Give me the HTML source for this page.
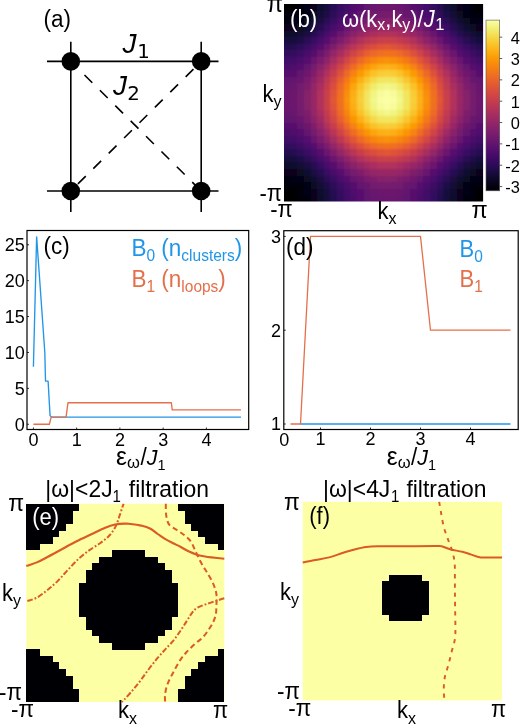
<!DOCTYPE html>
<html><head><meta charset="utf-8"><title>Figure</title>
<style>
html,body{margin:0;padding:0;background:#fff;}
svg{display:block;}
text{font-family:"Liberation Sans",sans-serif;fill:#000;}
.dj{font-family:"DejaVu Sans",sans-serif;}
.it{font-style:italic;}
</style></head><body>
<svg width="520" height="724" viewBox="0 0 520 724">
<rect width="520" height="724" fill="#fff"/>
<g id="pa" stroke="#000" stroke-width="1.6" fill="none">
<line x1="47" y1="61.4" x2="218.5" y2="61.4"/>
<line x1="47" y1="191.0" x2="218.5" y2="191.0"/>
<line x1="70.8" y1="41.8" x2="70.8" y2="212"/>
<line x1="201.2" y1="41.8" x2="201.2" y2="212"/>
<line x1="70.8" y1="61.4" x2="201.2" y2="191.0" stroke-dasharray="11 10.7" stroke-dashoffset="2.4"/>
<line x1="201.2" y1="61.4" x2="70.8" y2="191.0" stroke-dasharray="11 10.7" stroke-dashoffset="10.8"/>
</g>
<circle cx="70.8" cy="61.4" r="9.3" fill="#000"/>
<circle cx="201.2" cy="61.4" r="9.3" fill="#000"/>
<circle cx="70.8" cy="191.0" r="9.3" fill="#000"/>
<circle cx="201.2" cy="191.0" r="9.3" fill="#000"/>
<text transform="matrix(1 0 0 1.05 0 -1.375)" x="43.5" y="27.5" font-size="22.5">(a)</text>
<text x="122.5" y="52.6" font-size="28"><tspan class="it">J</tspan><tspan class="dj" font-size="19.8" dy="5.1" dx="0.8">1</tspan></text>
<text x="113" y="95" font-size="28"><tspan class="it">J</tspan><tspan class="dj" font-size="19.8" dy="5.4" dx="0.3">2</tspan></text>
<defs><filter id="bl" x="-5%" y="-5%" width="110%" height="110%"><feGaussianBlur stdDeviation="0.8"/></filter></defs>
<clipPath id="cb"><rect x="284.0" y="3.9" width="199.1" height="197.5"/></clipPath>
<g clip-path="url(#cb)">
<g shape-rendering="crispEdges" filter="url(#bl)">
<rect x="277.36" y="201.40" width="7.14" height="7.08" fill="#000004"/>
<rect x="284.00" y="201.40" width="7.14" height="7.08" fill="#000004"/>
<rect x="290.64" y="201.40" width="7.14" height="7.08" fill="#000004"/>
<rect x="297.27" y="201.40" width="7.14" height="7.08" fill="#010108"/>
<rect x="303.91" y="201.40" width="7.14" height="7.08" fill="#030210"/>
<rect x="310.55" y="201.40" width="7.14" height="7.08" fill="#07051b"/>
<rect x="317.18" y="201.40" width="7.14" height="7.08" fill="#0e092b"/>
<rect x="323.82" y="201.40" width="7.14" height="7.08" fill="#180c3c"/>
<rect x="330.46" y="201.40" width="7.14" height="7.08" fill="#240c4f"/>
<rect x="337.09" y="201.40" width="7.14" height="7.08" fill="#320a5e"/>
<rect x="343.73" y="201.40" width="7.14" height="7.08" fill="#400a67"/>
<rect x="350.37" y="201.40" width="7.14" height="7.08" fill="#4c0c6b"/>
<rect x="357.00" y="201.40" width="7.14" height="7.08" fill="#57106e"/>
<rect x="363.64" y="201.40" width="7.14" height="7.08" fill="#5f136e"/>
<rect x="370.28" y="201.40" width="7.14" height="7.08" fill="#65156e"/>
<rect x="376.91" y="201.40" width="7.14" height="7.08" fill="#69166e"/>
<rect x="383.55" y="201.40" width="7.14" height="7.08" fill="#6a176e"/>
<rect x="390.19" y="201.40" width="7.14" height="7.08" fill="#69166e"/>
<rect x="396.82" y="201.40" width="7.14" height="7.08" fill="#65156e"/>
<rect x="403.46" y="201.40" width="7.14" height="7.08" fill="#5f136e"/>
<rect x="410.10" y="201.40" width="7.14" height="7.08" fill="#57106e"/>
<rect x="416.73" y="201.40" width="7.14" height="7.08" fill="#4c0c6b"/>
<rect x="423.37" y="201.40" width="7.14" height="7.08" fill="#400a67"/>
<rect x="430.01" y="201.40" width="7.14" height="7.08" fill="#320a5e"/>
<rect x="436.64" y="201.40" width="7.14" height="7.08" fill="#240c4f"/>
<rect x="443.28" y="201.40" width="7.14" height="7.08" fill="#180c3c"/>
<rect x="449.92" y="201.40" width="7.14" height="7.08" fill="#0e092b"/>
<rect x="456.55" y="201.40" width="7.14" height="7.08" fill="#07051b"/>
<rect x="463.19" y="201.40" width="7.14" height="7.08" fill="#030210"/>
<rect x="469.83" y="201.40" width="7.14" height="7.08" fill="#010108"/>
<rect x="476.46" y="201.40" width="7.14" height="7.08" fill="#000004"/>
<rect x="483.10" y="201.40" width="7.14" height="7.08" fill="#000004"/>
<rect x="277.36" y="194.82" width="7.14" height="7.08" fill="#000004"/>
<rect x="284.00" y="194.82" width="7.14" height="7.08" fill="#000004"/>
<rect x="290.64" y="194.82" width="7.14" height="7.08" fill="#000004"/>
<rect x="297.27" y="194.82" width="7.14" height="7.08" fill="#010108"/>
<rect x="303.91" y="194.82" width="7.14" height="7.08" fill="#030210"/>
<rect x="310.55" y="194.82" width="7.14" height="7.08" fill="#07051b"/>
<rect x="317.18" y="194.82" width="7.14" height="7.08" fill="#0e092b"/>
<rect x="323.82" y="194.82" width="7.14" height="7.08" fill="#180c3c"/>
<rect x="330.46" y="194.82" width="7.14" height="7.08" fill="#240c4f"/>
<rect x="337.09" y="194.82" width="7.14" height="7.08" fill="#320a5e"/>
<rect x="343.73" y="194.82" width="7.14" height="7.08" fill="#400a67"/>
<rect x="350.37" y="194.82" width="7.14" height="7.08" fill="#4c0c6b"/>
<rect x="357.00" y="194.82" width="7.14" height="7.08" fill="#57106e"/>
<rect x="363.64" y="194.82" width="7.14" height="7.08" fill="#5f136e"/>
<rect x="370.28" y="194.82" width="7.14" height="7.08" fill="#65156e"/>
<rect x="376.91" y="194.82" width="7.14" height="7.08" fill="#69166e"/>
<rect x="383.55" y="194.82" width="7.14" height="7.08" fill="#6a176e"/>
<rect x="390.19" y="194.82" width="7.14" height="7.08" fill="#69166e"/>
<rect x="396.82" y="194.82" width="7.14" height="7.08" fill="#65156e"/>
<rect x="403.46" y="194.82" width="7.14" height="7.08" fill="#5f136e"/>
<rect x="410.10" y="194.82" width="7.14" height="7.08" fill="#57106e"/>
<rect x="416.73" y="194.82" width="7.14" height="7.08" fill="#4c0c6b"/>
<rect x="423.37" y="194.82" width="7.14" height="7.08" fill="#400a67"/>
<rect x="430.01" y="194.82" width="7.14" height="7.08" fill="#320a5e"/>
<rect x="436.64" y="194.82" width="7.14" height="7.08" fill="#240c4f"/>
<rect x="443.28" y="194.82" width="7.14" height="7.08" fill="#180c3c"/>
<rect x="449.92" y="194.82" width="7.14" height="7.08" fill="#0e092b"/>
<rect x="456.55" y="194.82" width="7.14" height="7.08" fill="#07051b"/>
<rect x="463.19" y="194.82" width="7.14" height="7.08" fill="#030210"/>
<rect x="469.83" y="194.82" width="7.14" height="7.08" fill="#010108"/>
<rect x="476.46" y="194.82" width="7.14" height="7.08" fill="#000004"/>
<rect x="483.10" y="194.82" width="7.14" height="7.08" fill="#000004"/>
<rect x="277.36" y="188.23" width="7.14" height="7.08" fill="#000004"/>
<rect x="284.00" y="188.23" width="7.14" height="7.08" fill="#000004"/>
<rect x="290.64" y="188.23" width="7.14" height="7.08" fill="#010005"/>
<rect x="297.27" y="188.23" width="7.14" height="7.08" fill="#02010a"/>
<rect x="303.91" y="188.23" width="7.14" height="7.08" fill="#040312"/>
<rect x="310.55" y="188.23" width="7.14" height="7.08" fill="#08051d"/>
<rect x="317.18" y="188.23" width="7.14" height="7.08" fill="#10092d"/>
<rect x="323.82" y="188.23" width="7.14" height="7.08" fill="#190c3e"/>
<rect x="330.46" y="188.23" width="7.14" height="7.08" fill="#260c51"/>
<rect x="337.09" y="188.23" width="7.14" height="7.08" fill="#340a5f"/>
<rect x="343.73" y="188.23" width="7.14" height="7.08" fill="#420a68"/>
<rect x="350.37" y="188.23" width="7.14" height="7.08" fill="#4f0d6c"/>
<rect x="357.00" y="188.23" width="7.14" height="7.08" fill="#59106e"/>
<rect x="363.64" y="188.23" width="7.14" height="7.08" fill="#62146e"/>
<rect x="370.28" y="188.23" width="7.14" height="7.08" fill="#69166e"/>
<rect x="376.91" y="188.23" width="7.14" height="7.08" fill="#6c186e"/>
<rect x="383.55" y="188.23" width="7.14" height="7.08" fill="#6d186e"/>
<rect x="390.19" y="188.23" width="7.14" height="7.08" fill="#6c186e"/>
<rect x="396.82" y="188.23" width="7.14" height="7.08" fill="#69166e"/>
<rect x="403.46" y="188.23" width="7.14" height="7.08" fill="#62146e"/>
<rect x="410.10" y="188.23" width="7.14" height="7.08" fill="#59106e"/>
<rect x="416.73" y="188.23" width="7.14" height="7.08" fill="#4f0d6c"/>
<rect x="423.37" y="188.23" width="7.14" height="7.08" fill="#420a68"/>
<rect x="430.01" y="188.23" width="7.14" height="7.08" fill="#340a5f"/>
<rect x="436.64" y="188.23" width="7.14" height="7.08" fill="#260c51"/>
<rect x="443.28" y="188.23" width="7.14" height="7.08" fill="#190c3e"/>
<rect x="449.92" y="188.23" width="7.14" height="7.08" fill="#10092d"/>
<rect x="456.55" y="188.23" width="7.14" height="7.08" fill="#08051d"/>
<rect x="463.19" y="188.23" width="7.14" height="7.08" fill="#040312"/>
<rect x="469.83" y="188.23" width="7.14" height="7.08" fill="#02010a"/>
<rect x="476.46" y="188.23" width="7.14" height="7.08" fill="#010005"/>
<rect x="483.10" y="188.23" width="7.14" height="7.08" fill="#010005"/>
<rect x="277.36" y="181.65" width="7.14" height="7.08" fill="#010108"/>
<rect x="284.00" y="181.65" width="7.14" height="7.08" fill="#010108"/>
<rect x="290.64" y="181.65" width="7.14" height="7.08" fill="#02010a"/>
<rect x="297.27" y="181.65" width="7.14" height="7.08" fill="#02020e"/>
<rect x="303.91" y="181.65" width="7.14" height="7.08" fill="#060419"/>
<rect x="310.55" y="181.65" width="7.14" height="7.08" fill="#0b0724"/>
<rect x="317.18" y="181.65" width="7.14" height="7.08" fill="#140b34"/>
<rect x="323.82" y="181.65" width="7.14" height="7.08" fill="#1f0c48"/>
<rect x="330.46" y="181.65" width="7.14" height="7.08" fill="#2d0b59"/>
<rect x="337.09" y="181.65" width="7.14" height="7.08" fill="#3d0965"/>
<rect x="343.73" y="181.65" width="7.14" height="7.08" fill="#4a0c6b"/>
<rect x="350.37" y="181.65" width="7.14" height="7.08" fill="#57106e"/>
<rect x="357.00" y="181.65" width="7.14" height="7.08" fill="#62146e"/>
<rect x="363.64" y="181.65" width="7.14" height="7.08" fill="#6a176e"/>
<rect x="370.28" y="181.65" width="7.14" height="7.08" fill="#721a6e"/>
<rect x="376.91" y="181.65" width="7.14" height="7.08" fill="#751b6e"/>
<rect x="383.55" y="181.65" width="7.14" height="7.08" fill="#771c6d"/>
<rect x="390.19" y="181.65" width="7.14" height="7.08" fill="#751b6e"/>
<rect x="396.82" y="181.65" width="7.14" height="7.08" fill="#721a6e"/>
<rect x="403.46" y="181.65" width="7.14" height="7.08" fill="#6a176e"/>
<rect x="410.10" y="181.65" width="7.14" height="7.08" fill="#62146e"/>
<rect x="416.73" y="181.65" width="7.14" height="7.08" fill="#57106e"/>
<rect x="423.37" y="181.65" width="7.14" height="7.08" fill="#4a0c6b"/>
<rect x="430.01" y="181.65" width="7.14" height="7.08" fill="#3d0965"/>
<rect x="436.64" y="181.65" width="7.14" height="7.08" fill="#2d0b59"/>
<rect x="443.28" y="181.65" width="7.14" height="7.08" fill="#1f0c48"/>
<rect x="449.92" y="181.65" width="7.14" height="7.08" fill="#140b34"/>
<rect x="456.55" y="181.65" width="7.14" height="7.08" fill="#0b0724"/>
<rect x="463.19" y="181.65" width="7.14" height="7.08" fill="#060419"/>
<rect x="469.83" y="181.65" width="7.14" height="7.08" fill="#02020e"/>
<rect x="476.46" y="181.65" width="7.14" height="7.08" fill="#02010a"/>
<rect x="483.10" y="181.65" width="7.14" height="7.08" fill="#02010a"/>
<rect x="277.36" y="175.07" width="7.14" height="7.08" fill="#030210"/>
<rect x="284.00" y="175.07" width="7.14" height="7.08" fill="#030210"/>
<rect x="290.64" y="175.07" width="7.14" height="7.08" fill="#040312"/>
<rect x="297.27" y="175.07" width="7.14" height="7.08" fill="#060419"/>
<rect x="303.91" y="175.07" width="7.14" height="7.08" fill="#0a0722"/>
<rect x="310.55" y="175.07" width="7.14" height="7.08" fill="#110a30"/>
<rect x="317.18" y="175.07" width="7.14" height="7.08" fill="#1b0c41"/>
<rect x="323.82" y="175.07" width="7.14" height="7.08" fill="#290b55"/>
<rect x="330.46" y="175.07" width="7.14" height="7.08" fill="#390963"/>
<rect x="337.09" y="175.07" width="7.14" height="7.08" fill="#490b6a"/>
<rect x="343.73" y="175.07" width="7.14" height="7.08" fill="#57106e"/>
<rect x="350.37" y="175.07" width="7.14" height="7.08" fill="#64156e"/>
<rect x="357.00" y="175.07" width="7.14" height="7.08" fill="#6f196e"/>
<rect x="363.64" y="175.07" width="7.14" height="7.08" fill="#781c6d"/>
<rect x="370.28" y="175.07" width="7.14" height="7.08" fill="#801f6c"/>
<rect x="376.91" y="175.07" width="7.14" height="7.08" fill="#84206b"/>
<rect x="383.55" y="175.07" width="7.14" height="7.08" fill="#85216b"/>
<rect x="390.19" y="175.07" width="7.14" height="7.08" fill="#84206b"/>
<rect x="396.82" y="175.07" width="7.14" height="7.08" fill="#801f6c"/>
<rect x="403.46" y="175.07" width="7.14" height="7.08" fill="#781c6d"/>
<rect x="410.10" y="175.07" width="7.14" height="7.08" fill="#6f196e"/>
<rect x="416.73" y="175.07" width="7.14" height="7.08" fill="#64156e"/>
<rect x="423.37" y="175.07" width="7.14" height="7.08" fill="#57106e"/>
<rect x="430.01" y="175.07" width="7.14" height="7.08" fill="#490b6a"/>
<rect x="436.64" y="175.07" width="7.14" height="7.08" fill="#390963"/>
<rect x="443.28" y="175.07" width="7.14" height="7.08" fill="#290b55"/>
<rect x="449.92" y="175.07" width="7.14" height="7.08" fill="#1b0c41"/>
<rect x="456.55" y="175.07" width="7.14" height="7.08" fill="#110a30"/>
<rect x="463.19" y="175.07" width="7.14" height="7.08" fill="#0a0722"/>
<rect x="469.83" y="175.07" width="7.14" height="7.08" fill="#060419"/>
<rect x="476.46" y="175.07" width="7.14" height="7.08" fill="#040312"/>
<rect x="483.10" y="175.07" width="7.14" height="7.08" fill="#040312"/>
<rect x="277.36" y="168.48" width="7.14" height="7.08" fill="#07051b"/>
<rect x="284.00" y="168.48" width="7.14" height="7.08" fill="#07051b"/>
<rect x="290.64" y="168.48" width="7.14" height="7.08" fill="#08051d"/>
<rect x="297.27" y="168.48" width="7.14" height="7.08" fill="#0b0724"/>
<rect x="303.91" y="168.48" width="7.14" height="7.08" fill="#110a30"/>
<rect x="310.55" y="168.48" width="7.14" height="7.08" fill="#1b0c41"/>
<rect x="317.18" y="168.48" width="7.14" height="7.08" fill="#280b53"/>
<rect x="323.82" y="168.48" width="7.14" height="7.08" fill="#380962"/>
<rect x="330.46" y="168.48" width="7.14" height="7.08" fill="#470b6a"/>
<rect x="337.09" y="168.48" width="7.14" height="7.08" fill="#57106e"/>
<rect x="343.73" y="168.48" width="7.14" height="7.08" fill="#67166e"/>
<rect x="350.37" y="168.48" width="7.14" height="7.08" fill="#751b6e"/>
<rect x="357.00" y="168.48" width="7.14" height="7.08" fill="#801f6c"/>
<rect x="363.64" y="168.48" width="7.14" height="7.08" fill="#8c2369"/>
<rect x="370.28" y="168.48" width="7.14" height="7.08" fill="#932667"/>
<rect x="376.91" y="168.48" width="7.14" height="7.08" fill="#982766"/>
<rect x="383.55" y="168.48" width="7.14" height="7.08" fill="#9a2865"/>
<rect x="390.19" y="168.48" width="7.14" height="7.08" fill="#982766"/>
<rect x="396.82" y="168.48" width="7.14" height="7.08" fill="#932667"/>
<rect x="403.46" y="168.48" width="7.14" height="7.08" fill="#8c2369"/>
<rect x="410.10" y="168.48" width="7.14" height="7.08" fill="#801f6c"/>
<rect x="416.73" y="168.48" width="7.14" height="7.08" fill="#751b6e"/>
<rect x="423.37" y="168.48" width="7.14" height="7.08" fill="#67166e"/>
<rect x="430.01" y="168.48" width="7.14" height="7.08" fill="#57106e"/>
<rect x="436.64" y="168.48" width="7.14" height="7.08" fill="#470b6a"/>
<rect x="443.28" y="168.48" width="7.14" height="7.08" fill="#380962"/>
<rect x="449.92" y="168.48" width="7.14" height="7.08" fill="#280b53"/>
<rect x="456.55" y="168.48" width="7.14" height="7.08" fill="#1b0c41"/>
<rect x="463.19" y="168.48" width="7.14" height="7.08" fill="#110a30"/>
<rect x="469.83" y="168.48" width="7.14" height="7.08" fill="#0b0724"/>
<rect x="476.46" y="168.48" width="7.14" height="7.08" fill="#08051d"/>
<rect x="483.10" y="168.48" width="7.14" height="7.08" fill="#08051d"/>
<rect x="277.36" y="161.90" width="7.14" height="7.08" fill="#0e092b"/>
<rect x="284.00" y="161.90" width="7.14" height="7.08" fill="#0e092b"/>
<rect x="290.64" y="161.90" width="7.14" height="7.08" fill="#10092d"/>
<rect x="297.27" y="161.90" width="7.14" height="7.08" fill="#140b34"/>
<rect x="303.91" y="161.90" width="7.14" height="7.08" fill="#1b0c41"/>
<rect x="310.55" y="161.90" width="7.14" height="7.08" fill="#280b53"/>
<rect x="317.18" y="161.90" width="7.14" height="7.08" fill="#360961"/>
<rect x="323.82" y="161.90" width="7.14" height="7.08" fill="#470b6a"/>
<rect x="330.46" y="161.90" width="7.14" height="7.08" fill="#59106e"/>
<rect x="337.09" y="161.90" width="7.14" height="7.08" fill="#69166e"/>
<rect x="343.73" y="161.90" width="7.14" height="7.08" fill="#7a1d6d"/>
<rect x="350.37" y="161.90" width="7.14" height="7.08" fill="#88226a"/>
<rect x="357.00" y="161.90" width="7.14" height="7.08" fill="#972766"/>
<rect x="363.64" y="161.90" width="7.14" height="7.08" fill="#a22b62"/>
<rect x="370.28" y="161.90" width="7.14" height="7.08" fill="#ab2f5e"/>
<rect x="376.91" y="161.90" width="7.14" height="7.08" fill="#b0315b"/>
<rect x="383.55" y="161.90" width="7.14" height="7.08" fill="#b1325a"/>
<rect x="390.19" y="161.90" width="7.14" height="7.08" fill="#b0315b"/>
<rect x="396.82" y="161.90" width="7.14" height="7.08" fill="#ab2f5e"/>
<rect x="403.46" y="161.90" width="7.14" height="7.08" fill="#a22b62"/>
<rect x="410.10" y="161.90" width="7.14" height="7.08" fill="#972766"/>
<rect x="416.73" y="161.90" width="7.14" height="7.08" fill="#8a226a"/>
<rect x="423.37" y="161.90" width="7.14" height="7.08" fill="#7a1d6d"/>
<rect x="430.01" y="161.90" width="7.14" height="7.08" fill="#69166e"/>
<rect x="436.64" y="161.90" width="7.14" height="7.08" fill="#59106e"/>
<rect x="443.28" y="161.90" width="7.14" height="7.08" fill="#470b6a"/>
<rect x="449.92" y="161.90" width="7.14" height="7.08" fill="#360961"/>
<rect x="456.55" y="161.90" width="7.14" height="7.08" fill="#280b53"/>
<rect x="463.19" y="161.90" width="7.14" height="7.08" fill="#1b0c41"/>
<rect x="469.83" y="161.90" width="7.14" height="7.08" fill="#140b34"/>
<rect x="476.46" y="161.90" width="7.14" height="7.08" fill="#10092d"/>
<rect x="483.10" y="161.90" width="7.14" height="7.08" fill="#10092d"/>
<rect x="277.36" y="155.32" width="7.14" height="7.08" fill="#180c3c"/>
<rect x="284.00" y="155.32" width="7.14" height="7.08" fill="#180c3c"/>
<rect x="290.64" y="155.32" width="7.14" height="7.08" fill="#190c3e"/>
<rect x="297.27" y="155.32" width="7.14" height="7.08" fill="#1f0c48"/>
<rect x="303.91" y="155.32" width="7.14" height="7.08" fill="#290b55"/>
<rect x="310.55" y="155.32" width="7.14" height="7.08" fill="#380962"/>
<rect x="317.18" y="155.32" width="7.14" height="7.08" fill="#470b6a"/>
<rect x="323.82" y="155.32" width="7.14" height="7.08" fill="#59106e"/>
<rect x="330.46" y="155.32" width="7.14" height="7.08" fill="#6a176e"/>
<rect x="337.09" y="155.32" width="7.14" height="7.08" fill="#7d1e6d"/>
<rect x="343.73" y="155.32" width="7.14" height="7.08" fill="#8f2469"/>
<rect x="350.37" y="155.32" width="7.14" height="7.08" fill="#a02a63"/>
<rect x="357.00" y="155.32" width="7.14" height="7.08" fill="#b0315b"/>
<rect x="363.64" y="155.32" width="7.14" height="7.08" fill="#bc3754"/>
<rect x="370.28" y="155.32" width="7.14" height="7.08" fill="#c33b4f"/>
<rect x="376.91" y="155.32" width="7.14" height="7.08" fill="#c83f4b"/>
<rect x="383.55" y="155.32" width="7.14" height="7.08" fill="#ca404a"/>
<rect x="390.19" y="155.32" width="7.14" height="7.08" fill="#c83f4b"/>
<rect x="396.82" y="155.32" width="7.14" height="7.08" fill="#c33b4f"/>
<rect x="403.46" y="155.32" width="7.14" height="7.08" fill="#bc3754"/>
<rect x="410.10" y="155.32" width="7.14" height="7.08" fill="#b0315b"/>
<rect x="416.73" y="155.32" width="7.14" height="7.08" fill="#a02a63"/>
<rect x="423.37" y="155.32" width="7.14" height="7.08" fill="#8f2469"/>
<rect x="430.01" y="155.32" width="7.14" height="7.08" fill="#7d1e6d"/>
<rect x="436.64" y="155.32" width="7.14" height="7.08" fill="#6a176e"/>
<rect x="443.28" y="155.32" width="7.14" height="7.08" fill="#59106e"/>
<rect x="449.92" y="155.32" width="7.14" height="7.08" fill="#470b6a"/>
<rect x="456.55" y="155.32" width="7.14" height="7.08" fill="#380962"/>
<rect x="463.19" y="155.32" width="7.14" height="7.08" fill="#290b55"/>
<rect x="469.83" y="155.32" width="7.14" height="7.08" fill="#1f0c48"/>
<rect x="476.46" y="155.32" width="7.14" height="7.08" fill="#190c3e"/>
<rect x="483.10" y="155.32" width="7.14" height="7.08" fill="#190c3e"/>
<rect x="277.36" y="148.73" width="7.14" height="7.08" fill="#240c4f"/>
<rect x="284.00" y="148.73" width="7.14" height="7.08" fill="#240c4f"/>
<rect x="290.64" y="148.73" width="7.14" height="7.08" fill="#260c51"/>
<rect x="297.27" y="148.73" width="7.14" height="7.08" fill="#2d0b59"/>
<rect x="303.91" y="148.73" width="7.14" height="7.08" fill="#390963"/>
<rect x="310.55" y="148.73" width="7.14" height="7.08" fill="#470b6a"/>
<rect x="317.18" y="148.73" width="7.14" height="7.08" fill="#59106e"/>
<rect x="323.82" y="148.73" width="7.14" height="7.08" fill="#6a176e"/>
<rect x="330.46" y="148.73" width="7.14" height="7.08" fill="#7f1e6c"/>
<rect x="337.09" y="148.73" width="7.14" height="7.08" fill="#932667"/>
<rect x="343.73" y="148.73" width="7.14" height="7.08" fill="#a62d60"/>
<rect x="350.37" y="148.73" width="7.14" height="7.08" fill="#b93556"/>
<rect x="357.00" y="148.73" width="7.14" height="7.08" fill="#c73e4c"/>
<rect x="363.64" y="148.73" width="7.14" height="7.08" fill="#d34743"/>
<rect x="370.28" y="148.73" width="7.14" height="7.08" fill="#da4e3c"/>
<rect x="376.91" y="148.73" width="7.14" height="7.08" fill="#df5337"/>
<rect x="383.55" y="148.73" width="7.14" height="7.08" fill="#e15635"/>
<rect x="390.19" y="148.73" width="7.14" height="7.08" fill="#df5337"/>
<rect x="396.82" y="148.73" width="7.14" height="7.08" fill="#da4e3c"/>
<rect x="403.46" y="148.73" width="7.14" height="7.08" fill="#d34743"/>
<rect x="410.10" y="148.73" width="7.14" height="7.08" fill="#c73e4c"/>
<rect x="416.73" y="148.73" width="7.14" height="7.08" fill="#b93556"/>
<rect x="423.37" y="148.73" width="7.14" height="7.08" fill="#a62d60"/>
<rect x="430.01" y="148.73" width="7.14" height="7.08" fill="#932667"/>
<rect x="436.64" y="148.73" width="7.14" height="7.08" fill="#7f1e6c"/>
<rect x="443.28" y="148.73" width="7.14" height="7.08" fill="#6a176e"/>
<rect x="449.92" y="148.73" width="7.14" height="7.08" fill="#59106e"/>
<rect x="456.55" y="148.73" width="7.14" height="7.08" fill="#470b6a"/>
<rect x="463.19" y="148.73" width="7.14" height="7.08" fill="#390963"/>
<rect x="469.83" y="148.73" width="7.14" height="7.08" fill="#2d0b59"/>
<rect x="476.46" y="148.73" width="7.14" height="7.08" fill="#260c51"/>
<rect x="483.10" y="148.73" width="7.14" height="7.08" fill="#260c51"/>
<rect x="277.36" y="142.15" width="7.14" height="7.08" fill="#320a5e"/>
<rect x="284.00" y="142.15" width="7.14" height="7.08" fill="#320a5e"/>
<rect x="290.64" y="142.15" width="7.14" height="7.08" fill="#340a5f"/>
<rect x="297.27" y="142.15" width="7.14" height="7.08" fill="#3d0965"/>
<rect x="303.91" y="142.15" width="7.14" height="7.08" fill="#490b6a"/>
<rect x="310.55" y="142.15" width="7.14" height="7.08" fill="#57106e"/>
<rect x="317.18" y="142.15" width="7.14" height="7.08" fill="#69166e"/>
<rect x="323.82" y="142.15" width="7.14" height="7.08" fill="#7d1e6d"/>
<rect x="330.46" y="142.15" width="7.14" height="7.08" fill="#932667"/>
<rect x="337.09" y="142.15" width="7.14" height="7.08" fill="#a92e5e"/>
<rect x="343.73" y="142.15" width="7.14" height="7.08" fill="#bd3853"/>
<rect x="350.37" y="142.15" width="7.14" height="7.08" fill="#cf4446"/>
<rect x="357.00" y="142.15" width="7.14" height="7.08" fill="#dd513a"/>
<rect x="363.64" y="142.15" width="7.14" height="7.08" fill="#e75e2e"/>
<rect x="370.28" y="142.15" width="7.14" height="7.08" fill="#ed6925"/>
<rect x="376.91" y="142.15" width="7.14" height="7.08" fill="#f06f20"/>
<rect x="383.55" y="142.15" width="7.14" height="7.08" fill="#f1711f"/>
<rect x="390.19" y="142.15" width="7.14" height="7.08" fill="#f06f20"/>
<rect x="396.82" y="142.15" width="7.14" height="7.08" fill="#ed6925"/>
<rect x="403.46" y="142.15" width="7.14" height="7.08" fill="#e75e2e"/>
<rect x="410.10" y="142.15" width="7.14" height="7.08" fill="#dd513a"/>
<rect x="416.73" y="142.15" width="7.14" height="7.08" fill="#cf4446"/>
<rect x="423.37" y="142.15" width="7.14" height="7.08" fill="#bd3853"/>
<rect x="430.01" y="142.15" width="7.14" height="7.08" fill="#a92e5e"/>
<rect x="436.64" y="142.15" width="7.14" height="7.08" fill="#932667"/>
<rect x="443.28" y="142.15" width="7.14" height="7.08" fill="#7d1e6d"/>
<rect x="449.92" y="142.15" width="7.14" height="7.08" fill="#69166e"/>
<rect x="456.55" y="142.15" width="7.14" height="7.08" fill="#57106e"/>
<rect x="463.19" y="142.15" width="7.14" height="7.08" fill="#490b6a"/>
<rect x="469.83" y="142.15" width="7.14" height="7.08" fill="#3d0965"/>
<rect x="476.46" y="142.15" width="7.14" height="7.08" fill="#340a5f"/>
<rect x="483.10" y="142.15" width="7.14" height="7.08" fill="#340a5f"/>
<rect x="277.36" y="135.57" width="7.14" height="7.08" fill="#400a67"/>
<rect x="284.00" y="135.57" width="7.14" height="7.08" fill="#400a67"/>
<rect x="290.64" y="135.57" width="7.14" height="7.08" fill="#420a68"/>
<rect x="297.27" y="135.57" width="7.14" height="7.08" fill="#4a0c6b"/>
<rect x="303.91" y="135.57" width="7.14" height="7.08" fill="#57106e"/>
<rect x="310.55" y="135.57" width="7.14" height="7.08" fill="#67166e"/>
<rect x="317.18" y="135.57" width="7.14" height="7.08" fill="#7a1d6d"/>
<rect x="323.82" y="135.57" width="7.14" height="7.08" fill="#8f2469"/>
<rect x="330.46" y="135.57" width="7.14" height="7.08" fill="#a62d60"/>
<rect x="337.09" y="135.57" width="7.14" height="7.08" fill="#bd3853"/>
<rect x="343.73" y="135.57" width="7.14" height="7.08" fill="#d24644"/>
<rect x="350.37" y="135.57" width="7.14" height="7.08" fill="#e25734"/>
<rect x="357.00" y="135.57" width="7.14" height="7.08" fill="#ed6925"/>
<rect x="363.64" y="135.57" width="7.14" height="7.08" fill="#f47918"/>
<rect x="370.28" y="135.57" width="7.14" height="7.08" fill="#f8850f"/>
<rect x="376.91" y="135.57" width="7.14" height="7.08" fill="#f98e09"/>
<rect x="383.55" y="135.57" width="7.14" height="7.08" fill="#fa9207"/>
<rect x="390.19" y="135.57" width="7.14" height="7.08" fill="#f98e09"/>
<rect x="396.82" y="135.57" width="7.14" height="7.08" fill="#f8850f"/>
<rect x="403.46" y="135.57" width="7.14" height="7.08" fill="#f47918"/>
<rect x="410.10" y="135.57" width="7.14" height="7.08" fill="#ed6925"/>
<rect x="416.73" y="135.57" width="7.14" height="7.08" fill="#e25734"/>
<rect x="423.37" y="135.57" width="7.14" height="7.08" fill="#d24644"/>
<rect x="430.01" y="135.57" width="7.14" height="7.08" fill="#bd3853"/>
<rect x="436.64" y="135.57" width="7.14" height="7.08" fill="#a62d60"/>
<rect x="443.28" y="135.57" width="7.14" height="7.08" fill="#8f2469"/>
<rect x="449.92" y="135.57" width="7.14" height="7.08" fill="#7a1d6d"/>
<rect x="456.55" y="135.57" width="7.14" height="7.08" fill="#67166e"/>
<rect x="463.19" y="135.57" width="7.14" height="7.08" fill="#57106e"/>
<rect x="469.83" y="135.57" width="7.14" height="7.08" fill="#4a0c6b"/>
<rect x="476.46" y="135.57" width="7.14" height="7.08" fill="#420a68"/>
<rect x="483.10" y="135.57" width="7.14" height="7.08" fill="#420a68"/>
<rect x="277.36" y="128.98" width="7.14" height="7.08" fill="#4c0c6b"/>
<rect x="284.00" y="128.98" width="7.14" height="7.08" fill="#4c0c6b"/>
<rect x="290.64" y="128.98" width="7.14" height="7.08" fill="#4f0d6c"/>
<rect x="297.27" y="128.98" width="7.14" height="7.08" fill="#57106e"/>
<rect x="303.91" y="128.98" width="7.14" height="7.08" fill="#64156e"/>
<rect x="310.55" y="128.98" width="7.14" height="7.08" fill="#751b6e"/>
<rect x="317.18" y="128.98" width="7.14" height="7.08" fill="#88226a"/>
<rect x="323.82" y="128.98" width="7.14" height="7.08" fill="#a02a63"/>
<rect x="330.46" y="128.98" width="7.14" height="7.08" fill="#b93556"/>
<rect x="337.09" y="128.98" width="7.14" height="7.08" fill="#cf4446"/>
<rect x="343.73" y="128.98" width="7.14" height="7.08" fill="#e25734"/>
<rect x="350.37" y="128.98" width="7.14" height="7.08" fill="#ef6c23"/>
<rect x="357.00" y="128.98" width="7.14" height="7.08" fill="#f78212"/>
<rect x="363.64" y="128.98" width="7.14" height="7.08" fill="#fb9606"/>
<rect x="370.28" y="128.98" width="7.14" height="7.08" fill="#fca50a"/>
<rect x="376.91" y="128.98" width="7.14" height="7.08" fill="#fcae12"/>
<rect x="383.55" y="128.98" width="7.14" height="7.08" fill="#fcb216"/>
<rect x="390.19" y="128.98" width="7.14" height="7.08" fill="#fcae12"/>
<rect x="396.82" y="128.98" width="7.14" height="7.08" fill="#fca50a"/>
<rect x="403.46" y="128.98" width="7.14" height="7.08" fill="#fb9606"/>
<rect x="410.10" y="128.98" width="7.14" height="7.08" fill="#f78212"/>
<rect x="416.73" y="128.98" width="7.14" height="7.08" fill="#ef6c23"/>
<rect x="423.37" y="128.98" width="7.14" height="7.08" fill="#e25734"/>
<rect x="430.01" y="128.98" width="7.14" height="7.08" fill="#cf4446"/>
<rect x="436.64" y="128.98" width="7.14" height="7.08" fill="#b93556"/>
<rect x="443.28" y="128.98" width="7.14" height="7.08" fill="#a02a63"/>
<rect x="449.92" y="128.98" width="7.14" height="7.08" fill="#88226a"/>
<rect x="456.55" y="128.98" width="7.14" height="7.08" fill="#751b6e"/>
<rect x="463.19" y="128.98" width="7.14" height="7.08" fill="#64156e"/>
<rect x="469.83" y="128.98" width="7.14" height="7.08" fill="#57106e"/>
<rect x="476.46" y="128.98" width="7.14" height="7.08" fill="#4f0d6c"/>
<rect x="483.10" y="128.98" width="7.14" height="7.08" fill="#4f0d6c"/>
<rect x="277.36" y="122.40" width="7.14" height="7.08" fill="#57106e"/>
<rect x="284.00" y="122.40" width="7.14" height="7.08" fill="#57106e"/>
<rect x="290.64" y="122.40" width="7.14" height="7.08" fill="#59106e"/>
<rect x="297.27" y="122.40" width="7.14" height="7.08" fill="#62146e"/>
<rect x="303.91" y="122.40" width="7.14" height="7.08" fill="#6f196e"/>
<rect x="310.55" y="122.40" width="7.14" height="7.08" fill="#801f6c"/>
<rect x="317.18" y="122.40" width="7.14" height="7.08" fill="#972766"/>
<rect x="323.82" y="122.40" width="7.14" height="7.08" fill="#b0315b"/>
<rect x="330.46" y="122.40" width="7.14" height="7.08" fill="#c73e4c"/>
<rect x="337.09" y="122.40" width="7.14" height="7.08" fill="#dd513a"/>
<rect x="343.73" y="122.40" width="7.14" height="7.08" fill="#ed6925"/>
<rect x="350.37" y="122.40" width="7.14" height="7.08" fill="#f78212"/>
<rect x="357.00" y="122.40" width="7.14" height="7.08" fill="#fb9b06"/>
<rect x="363.64" y="122.40" width="7.14" height="7.08" fill="#fcb014"/>
<rect x="370.28" y="122.40" width="7.14" height="7.08" fill="#fac228"/>
<rect x="376.91" y="122.40" width="7.14" height="7.08" fill="#f9cb35"/>
<rect x="383.55" y="122.40" width="7.14" height="7.08" fill="#f8cf3a"/>
<rect x="390.19" y="122.40" width="7.14" height="7.08" fill="#f9cb35"/>
<rect x="396.82" y="122.40" width="7.14" height="7.08" fill="#fac228"/>
<rect x="403.46" y="122.40" width="7.14" height="7.08" fill="#fcb014"/>
<rect x="410.10" y="122.40" width="7.14" height="7.08" fill="#fb9b06"/>
<rect x="416.73" y="122.40" width="7.14" height="7.08" fill="#f78212"/>
<rect x="423.37" y="122.40" width="7.14" height="7.08" fill="#ed6925"/>
<rect x="430.01" y="122.40" width="7.14" height="7.08" fill="#dd513a"/>
<rect x="436.64" y="122.40" width="7.14" height="7.08" fill="#c73e4c"/>
<rect x="443.28" y="122.40" width="7.14" height="7.08" fill="#b0315b"/>
<rect x="449.92" y="122.40" width="7.14" height="7.08" fill="#972766"/>
<rect x="456.55" y="122.40" width="7.14" height="7.08" fill="#801f6c"/>
<rect x="463.19" y="122.40" width="7.14" height="7.08" fill="#6f196e"/>
<rect x="469.83" y="122.40" width="7.14" height="7.08" fill="#62146e"/>
<rect x="476.46" y="122.40" width="7.14" height="7.08" fill="#59106e"/>
<rect x="483.10" y="122.40" width="7.14" height="7.08" fill="#59106e"/>
<rect x="277.36" y="115.82" width="7.14" height="7.08" fill="#5f136e"/>
<rect x="284.00" y="115.82" width="7.14" height="7.08" fill="#5f136e"/>
<rect x="290.64" y="115.82" width="7.14" height="7.08" fill="#62146e"/>
<rect x="297.27" y="115.82" width="7.14" height="7.08" fill="#6a176e"/>
<rect x="303.91" y="115.82" width="7.14" height="7.08" fill="#781c6d"/>
<rect x="310.55" y="115.82" width="7.14" height="7.08" fill="#8c2369"/>
<rect x="317.18" y="115.82" width="7.14" height="7.08" fill="#a22b62"/>
<rect x="323.82" y="115.82" width="7.14" height="7.08" fill="#bc3754"/>
<rect x="330.46" y="115.82" width="7.14" height="7.08" fill="#d34743"/>
<rect x="337.09" y="115.82" width="7.14" height="7.08" fill="#e75e2e"/>
<rect x="343.73" y="115.82" width="7.14" height="7.08" fill="#f47918"/>
<rect x="350.37" y="115.82" width="7.14" height="7.08" fill="#fb9606"/>
<rect x="357.00" y="115.82" width="7.14" height="7.08" fill="#fcb014"/>
<rect x="363.64" y="115.82" width="7.14" height="7.08" fill="#f9c72f"/>
<rect x="370.28" y="115.82" width="7.14" height="7.08" fill="#f5d949"/>
<rect x="376.91" y="115.82" width="7.14" height="7.08" fill="#f3e55d"/>
<rect x="383.55" y="115.82" width="7.14" height="7.08" fill="#f2e661"/>
<rect x="390.19" y="115.82" width="7.14" height="7.08" fill="#f3e55d"/>
<rect x="396.82" y="115.82" width="7.14" height="7.08" fill="#f5d949"/>
<rect x="403.46" y="115.82" width="7.14" height="7.08" fill="#f9c72f"/>
<rect x="410.10" y="115.82" width="7.14" height="7.08" fill="#fcb014"/>
<rect x="416.73" y="115.82" width="7.14" height="7.08" fill="#fb9606"/>
<rect x="423.37" y="115.82" width="7.14" height="7.08" fill="#f47918"/>
<rect x="430.01" y="115.82" width="7.14" height="7.08" fill="#e75e2e"/>
<rect x="436.64" y="115.82" width="7.14" height="7.08" fill="#d34743"/>
<rect x="443.28" y="115.82" width="7.14" height="7.08" fill="#bc3754"/>
<rect x="449.92" y="115.82" width="7.14" height="7.08" fill="#a22b62"/>
<rect x="456.55" y="115.82" width="7.14" height="7.08" fill="#8c2369"/>
<rect x="463.19" y="115.82" width="7.14" height="7.08" fill="#781c6d"/>
<rect x="469.83" y="115.82" width="7.14" height="7.08" fill="#6a176e"/>
<rect x="476.46" y="115.82" width="7.14" height="7.08" fill="#62146e"/>
<rect x="483.10" y="115.82" width="7.14" height="7.08" fill="#62146e"/>
<rect x="277.36" y="109.23" width="7.14" height="7.08" fill="#65156e"/>
<rect x="284.00" y="109.23" width="7.14" height="7.08" fill="#65156e"/>
<rect x="290.64" y="109.23" width="7.14" height="7.08" fill="#69166e"/>
<rect x="297.27" y="109.23" width="7.14" height="7.08" fill="#721a6e"/>
<rect x="303.91" y="109.23" width="7.14" height="7.08" fill="#801f6c"/>
<rect x="310.55" y="109.23" width="7.14" height="7.08" fill="#932667"/>
<rect x="317.18" y="109.23" width="7.14" height="7.08" fill="#ab2f5e"/>
<rect x="323.82" y="109.23" width="7.14" height="7.08" fill="#c33b4f"/>
<rect x="330.46" y="109.23" width="7.14" height="7.08" fill="#da4e3c"/>
<rect x="337.09" y="109.23" width="7.14" height="7.08" fill="#ed6925"/>
<rect x="343.73" y="109.23" width="7.14" height="7.08" fill="#f8850f"/>
<rect x="350.37" y="109.23" width="7.14" height="7.08" fill="#fca50a"/>
<rect x="357.00" y="109.23" width="7.14" height="7.08" fill="#fac228"/>
<rect x="363.64" y="109.23" width="7.14" height="7.08" fill="#f5d949"/>
<rect x="370.28" y="109.23" width="7.14" height="7.08" fill="#f2ea69"/>
<rect x="376.91" y="109.23" width="7.14" height="7.08" fill="#f2f482"/>
<rect x="383.55" y="109.23" width="7.14" height="7.08" fill="#f3f68a"/>
<rect x="390.19" y="109.23" width="7.14" height="7.08" fill="#f2f482"/>
<rect x="396.82" y="109.23" width="7.14" height="7.08" fill="#f2ea69"/>
<rect x="403.46" y="109.23" width="7.14" height="7.08" fill="#f5d949"/>
<rect x="410.10" y="109.23" width="7.14" height="7.08" fill="#fac228"/>
<rect x="416.73" y="109.23" width="7.14" height="7.08" fill="#fca50a"/>
<rect x="423.37" y="109.23" width="7.14" height="7.08" fill="#f8850f"/>
<rect x="430.01" y="109.23" width="7.14" height="7.08" fill="#ed6925"/>
<rect x="436.64" y="109.23" width="7.14" height="7.08" fill="#da4e3c"/>
<rect x="443.28" y="109.23" width="7.14" height="7.08" fill="#c33b4f"/>
<rect x="449.92" y="109.23" width="7.14" height="7.08" fill="#ab2f5e"/>
<rect x="456.55" y="109.23" width="7.14" height="7.08" fill="#932667"/>
<rect x="463.19" y="109.23" width="7.14" height="7.08" fill="#801f6c"/>
<rect x="469.83" y="109.23" width="7.14" height="7.08" fill="#721a6e"/>
<rect x="476.46" y="109.23" width="7.14" height="7.08" fill="#69166e"/>
<rect x="483.10" y="109.23" width="7.14" height="7.08" fill="#69166e"/>
<rect x="277.36" y="102.65" width="7.14" height="7.08" fill="#69166e"/>
<rect x="284.00" y="102.65" width="7.14" height="7.08" fill="#69166e"/>
<rect x="290.64" y="102.65" width="7.14" height="7.08" fill="#6c186e"/>
<rect x="297.27" y="102.65" width="7.14" height="7.08" fill="#751b6e"/>
<rect x="303.91" y="102.65" width="7.14" height="7.08" fill="#84206b"/>
<rect x="310.55" y="102.65" width="7.14" height="7.08" fill="#982766"/>
<rect x="317.18" y="102.65" width="7.14" height="7.08" fill="#b0315b"/>
<rect x="323.82" y="102.65" width="7.14" height="7.08" fill="#c83f4b"/>
<rect x="330.46" y="102.65" width="7.14" height="7.08" fill="#df5337"/>
<rect x="337.09" y="102.65" width="7.14" height="7.08" fill="#f06f20"/>
<rect x="343.73" y="102.65" width="7.14" height="7.08" fill="#f98e09"/>
<rect x="350.37" y="102.65" width="7.14" height="7.08" fill="#fcae12"/>
<rect x="357.00" y="102.65" width="7.14" height="7.08" fill="#f9cb35"/>
<rect x="363.64" y="102.65" width="7.14" height="7.08" fill="#f3e55d"/>
<rect x="370.28" y="102.65" width="7.14" height="7.08" fill="#f2f482"/>
<rect x="376.91" y="102.65" width="7.14" height="7.08" fill="#f8fb9a"/>
<rect x="383.55" y="102.65" width="7.14" height="7.08" fill="#fafda1"/>
<rect x="390.19" y="102.65" width="7.14" height="7.08" fill="#f8fb9a"/>
<rect x="396.82" y="102.65" width="7.14" height="7.08" fill="#f2f482"/>
<rect x="403.46" y="102.65" width="7.14" height="7.08" fill="#f3e55d"/>
<rect x="410.10" y="102.65" width="7.14" height="7.08" fill="#f9cb35"/>
<rect x="416.73" y="102.65" width="7.14" height="7.08" fill="#fcae12"/>
<rect x="423.37" y="102.65" width="7.14" height="7.08" fill="#f98e09"/>
<rect x="430.01" y="102.65" width="7.14" height="7.08" fill="#f06f20"/>
<rect x="436.64" y="102.65" width="7.14" height="7.08" fill="#df5337"/>
<rect x="443.28" y="102.65" width="7.14" height="7.08" fill="#c83f4b"/>
<rect x="449.92" y="102.65" width="7.14" height="7.08" fill="#b0315b"/>
<rect x="456.55" y="102.65" width="7.14" height="7.08" fill="#982766"/>
<rect x="463.19" y="102.65" width="7.14" height="7.08" fill="#84206b"/>
<rect x="469.83" y="102.65" width="7.14" height="7.08" fill="#751b6e"/>
<rect x="476.46" y="102.65" width="7.14" height="7.08" fill="#6c186e"/>
<rect x="483.10" y="102.65" width="7.14" height="7.08" fill="#6c186e"/>
<rect x="277.36" y="96.07" width="7.14" height="7.08" fill="#6a176e"/>
<rect x="284.00" y="96.07" width="7.14" height="7.08" fill="#6a176e"/>
<rect x="290.64" y="96.07" width="7.14" height="7.08" fill="#6d186e"/>
<rect x="297.27" y="96.07" width="7.14" height="7.08" fill="#771c6d"/>
<rect x="303.91" y="96.07" width="7.14" height="7.08" fill="#85216b"/>
<rect x="310.55" y="96.07" width="7.14" height="7.08" fill="#9a2865"/>
<rect x="317.18" y="96.07" width="7.14" height="7.08" fill="#b1325a"/>
<rect x="323.82" y="96.07" width="7.14" height="7.08" fill="#ca404a"/>
<rect x="330.46" y="96.07" width="7.14" height="7.08" fill="#e15635"/>
<rect x="337.09" y="96.07" width="7.14" height="7.08" fill="#f1711f"/>
<rect x="343.73" y="96.07" width="7.14" height="7.08" fill="#fa9207"/>
<rect x="350.37" y="96.07" width="7.14" height="7.08" fill="#fcb216"/>
<rect x="357.00" y="96.07" width="7.14" height="7.08" fill="#f8cf3a"/>
<rect x="363.64" y="96.07" width="7.14" height="7.08" fill="#f2e661"/>
<rect x="370.28" y="96.07" width="7.14" height="7.08" fill="#f3f68a"/>
<rect x="376.91" y="96.07" width="7.14" height="7.08" fill="#fafda1"/>
<rect x="383.55" y="96.07" width="7.14" height="7.08" fill="#fcffa4"/>
<rect x="390.19" y="96.07" width="7.14" height="7.08" fill="#fafda1"/>
<rect x="396.82" y="96.07" width="7.14" height="7.08" fill="#f3f68a"/>
<rect x="403.46" y="96.07" width="7.14" height="7.08" fill="#f2e661"/>
<rect x="410.10" y="96.07" width="7.14" height="7.08" fill="#f8cf3a"/>
<rect x="416.73" y="96.07" width="7.14" height="7.08" fill="#fcb216"/>
<rect x="423.37" y="96.07" width="7.14" height="7.08" fill="#fa9207"/>
<rect x="430.01" y="96.07" width="7.14" height="7.08" fill="#f1711f"/>
<rect x="436.64" y="96.07" width="7.14" height="7.08" fill="#e15635"/>
<rect x="443.28" y="96.07" width="7.14" height="7.08" fill="#ca404a"/>
<rect x="449.92" y="96.07" width="7.14" height="7.08" fill="#b1325a"/>
<rect x="456.55" y="96.07" width="7.14" height="7.08" fill="#9a2865"/>
<rect x="463.19" y="96.07" width="7.14" height="7.08" fill="#85216b"/>
<rect x="469.83" y="96.07" width="7.14" height="7.08" fill="#771c6d"/>
<rect x="476.46" y="96.07" width="7.14" height="7.08" fill="#6d186e"/>
<rect x="483.10" y="96.07" width="7.14" height="7.08" fill="#6d186e"/>
<rect x="277.36" y="89.48" width="7.14" height="7.08" fill="#69166e"/>
<rect x="284.00" y="89.48" width="7.14" height="7.08" fill="#69166e"/>
<rect x="290.64" y="89.48" width="7.14" height="7.08" fill="#6c186e"/>
<rect x="297.27" y="89.48" width="7.14" height="7.08" fill="#751b6e"/>
<rect x="303.91" y="89.48" width="7.14" height="7.08" fill="#84206b"/>
<rect x="310.55" y="89.48" width="7.14" height="7.08" fill="#982766"/>
<rect x="317.18" y="89.48" width="7.14" height="7.08" fill="#b0315b"/>
<rect x="323.82" y="89.48" width="7.14" height="7.08" fill="#c83f4b"/>
<rect x="330.46" y="89.48" width="7.14" height="7.08" fill="#df5337"/>
<rect x="337.09" y="89.48" width="7.14" height="7.08" fill="#f06f20"/>
<rect x="343.73" y="89.48" width="7.14" height="7.08" fill="#f98e09"/>
<rect x="350.37" y="89.48" width="7.14" height="7.08" fill="#fcae12"/>
<rect x="357.00" y="89.48" width="7.14" height="7.08" fill="#f9cb35"/>
<rect x="363.64" y="89.48" width="7.14" height="7.08" fill="#f3e55d"/>
<rect x="370.28" y="89.48" width="7.14" height="7.08" fill="#f2f482"/>
<rect x="376.91" y="89.48" width="7.14" height="7.08" fill="#f8fb9a"/>
<rect x="383.55" y="89.48" width="7.14" height="7.08" fill="#fafda1"/>
<rect x="390.19" y="89.48" width="7.14" height="7.08" fill="#f8fb9a"/>
<rect x="396.82" y="89.48" width="7.14" height="7.08" fill="#f2f482"/>
<rect x="403.46" y="89.48" width="7.14" height="7.08" fill="#f3e55d"/>
<rect x="410.10" y="89.48" width="7.14" height="7.08" fill="#f9cb35"/>
<rect x="416.73" y="89.48" width="7.14" height="7.08" fill="#fcae12"/>
<rect x="423.37" y="89.48" width="7.14" height="7.08" fill="#f98e09"/>
<rect x="430.01" y="89.48" width="7.14" height="7.08" fill="#f06f20"/>
<rect x="436.64" y="89.48" width="7.14" height="7.08" fill="#df5337"/>
<rect x="443.28" y="89.48" width="7.14" height="7.08" fill="#c83f4b"/>
<rect x="449.92" y="89.48" width="7.14" height="7.08" fill="#b0315b"/>
<rect x="456.55" y="89.48" width="7.14" height="7.08" fill="#982766"/>
<rect x="463.19" y="89.48" width="7.14" height="7.08" fill="#84206b"/>
<rect x="469.83" y="89.48" width="7.14" height="7.08" fill="#751b6e"/>
<rect x="476.46" y="89.48" width="7.14" height="7.08" fill="#6c186e"/>
<rect x="483.10" y="89.48" width="7.14" height="7.08" fill="#6c186e"/>
<rect x="277.36" y="82.90" width="7.14" height="7.08" fill="#65156e"/>
<rect x="284.00" y="82.90" width="7.14" height="7.08" fill="#65156e"/>
<rect x="290.64" y="82.90" width="7.14" height="7.08" fill="#69166e"/>
<rect x="297.27" y="82.90" width="7.14" height="7.08" fill="#721a6e"/>
<rect x="303.91" y="82.90" width="7.14" height="7.08" fill="#801f6c"/>
<rect x="310.55" y="82.90" width="7.14" height="7.08" fill="#932667"/>
<rect x="317.18" y="82.90" width="7.14" height="7.08" fill="#ab2f5e"/>
<rect x="323.82" y="82.90" width="7.14" height="7.08" fill="#c33b4f"/>
<rect x="330.46" y="82.90" width="7.14" height="7.08" fill="#da4e3c"/>
<rect x="337.09" y="82.90" width="7.14" height="7.08" fill="#ed6925"/>
<rect x="343.73" y="82.90" width="7.14" height="7.08" fill="#f8850f"/>
<rect x="350.37" y="82.90" width="7.14" height="7.08" fill="#fca50a"/>
<rect x="357.00" y="82.90" width="7.14" height="7.08" fill="#fac228"/>
<rect x="363.64" y="82.90" width="7.14" height="7.08" fill="#f5d949"/>
<rect x="370.28" y="82.90" width="7.14" height="7.08" fill="#f2ea69"/>
<rect x="376.91" y="82.90" width="7.14" height="7.08" fill="#f2f482"/>
<rect x="383.55" y="82.90" width="7.14" height="7.08" fill="#f3f68a"/>
<rect x="390.19" y="82.90" width="7.14" height="7.08" fill="#f2f482"/>
<rect x="396.82" y="82.90" width="7.14" height="7.08" fill="#f2ea69"/>
<rect x="403.46" y="82.90" width="7.14" height="7.08" fill="#f5d949"/>
<rect x="410.10" y="82.90" width="7.14" height="7.08" fill="#fac228"/>
<rect x="416.73" y="82.90" width="7.14" height="7.08" fill="#fca50a"/>
<rect x="423.37" y="82.90" width="7.14" height="7.08" fill="#f8850f"/>
<rect x="430.01" y="82.90" width="7.14" height="7.08" fill="#ed6925"/>
<rect x="436.64" y="82.90" width="7.14" height="7.08" fill="#da4e3c"/>
<rect x="443.28" y="82.90" width="7.14" height="7.08" fill="#c33b4f"/>
<rect x="449.92" y="82.90" width="7.14" height="7.08" fill="#ab2f5e"/>
<rect x="456.55" y="82.90" width="7.14" height="7.08" fill="#932667"/>
<rect x="463.19" y="82.90" width="7.14" height="7.08" fill="#801f6c"/>
<rect x="469.83" y="82.90" width="7.14" height="7.08" fill="#721a6e"/>
<rect x="476.46" y="82.90" width="7.14" height="7.08" fill="#69166e"/>
<rect x="483.10" y="82.90" width="7.14" height="7.08" fill="#69166e"/>
<rect x="277.36" y="76.32" width="7.14" height="7.08" fill="#5f136e"/>
<rect x="284.00" y="76.32" width="7.14" height="7.08" fill="#5f136e"/>
<rect x="290.64" y="76.32" width="7.14" height="7.08" fill="#62146e"/>
<rect x="297.27" y="76.32" width="7.14" height="7.08" fill="#6a176e"/>
<rect x="303.91" y="76.32" width="7.14" height="7.08" fill="#781c6d"/>
<rect x="310.55" y="76.32" width="7.14" height="7.08" fill="#8c2369"/>
<rect x="317.18" y="76.32" width="7.14" height="7.08" fill="#a22b62"/>
<rect x="323.82" y="76.32" width="7.14" height="7.08" fill="#bc3754"/>
<rect x="330.46" y="76.32" width="7.14" height="7.08" fill="#d34743"/>
<rect x="337.09" y="76.32" width="7.14" height="7.08" fill="#e75e2e"/>
<rect x="343.73" y="76.32" width="7.14" height="7.08" fill="#f47918"/>
<rect x="350.37" y="76.32" width="7.14" height="7.08" fill="#fb9606"/>
<rect x="357.00" y="76.32" width="7.14" height="7.08" fill="#fcb014"/>
<rect x="363.64" y="76.32" width="7.14" height="7.08" fill="#f9c72f"/>
<rect x="370.28" y="76.32" width="7.14" height="7.08" fill="#f5d949"/>
<rect x="376.91" y="76.32" width="7.14" height="7.08" fill="#f3e55d"/>
<rect x="383.55" y="76.32" width="7.14" height="7.08" fill="#f2e661"/>
<rect x="390.19" y="76.32" width="7.14" height="7.08" fill="#f3e55d"/>
<rect x="396.82" y="76.32" width="7.14" height="7.08" fill="#f5d949"/>
<rect x="403.46" y="76.32" width="7.14" height="7.08" fill="#f9c72f"/>
<rect x="410.10" y="76.32" width="7.14" height="7.08" fill="#fcb014"/>
<rect x="416.73" y="76.32" width="7.14" height="7.08" fill="#fb9606"/>
<rect x="423.37" y="76.32" width="7.14" height="7.08" fill="#f47918"/>
<rect x="430.01" y="76.32" width="7.14" height="7.08" fill="#e75e2e"/>
<rect x="436.64" y="76.32" width="7.14" height="7.08" fill="#d34743"/>
<rect x="443.28" y="76.32" width="7.14" height="7.08" fill="#bc3754"/>
<rect x="449.92" y="76.32" width="7.14" height="7.08" fill="#a22b62"/>
<rect x="456.55" y="76.32" width="7.14" height="7.08" fill="#8c2369"/>
<rect x="463.19" y="76.32" width="7.14" height="7.08" fill="#781c6d"/>
<rect x="469.83" y="76.32" width="7.14" height="7.08" fill="#6a176e"/>
<rect x="476.46" y="76.32" width="7.14" height="7.08" fill="#62146e"/>
<rect x="483.10" y="76.32" width="7.14" height="7.08" fill="#62146e"/>
<rect x="277.36" y="69.73" width="7.14" height="7.08" fill="#57106e"/>
<rect x="284.00" y="69.73" width="7.14" height="7.08" fill="#57106e"/>
<rect x="290.64" y="69.73" width="7.14" height="7.08" fill="#59106e"/>
<rect x="297.27" y="69.73" width="7.14" height="7.08" fill="#62146e"/>
<rect x="303.91" y="69.73" width="7.14" height="7.08" fill="#6f196e"/>
<rect x="310.55" y="69.73" width="7.14" height="7.08" fill="#801f6c"/>
<rect x="317.18" y="69.73" width="7.14" height="7.08" fill="#972766"/>
<rect x="323.82" y="69.73" width="7.14" height="7.08" fill="#b0315b"/>
<rect x="330.46" y="69.73" width="7.14" height="7.08" fill="#c73e4c"/>
<rect x="337.09" y="69.73" width="7.14" height="7.08" fill="#dd513a"/>
<rect x="343.73" y="69.73" width="7.14" height="7.08" fill="#ed6925"/>
<rect x="350.37" y="69.73" width="7.14" height="7.08" fill="#f78212"/>
<rect x="357.00" y="69.73" width="7.14" height="7.08" fill="#fb9b06"/>
<rect x="363.64" y="69.73" width="7.14" height="7.08" fill="#fcb014"/>
<rect x="370.28" y="69.73" width="7.14" height="7.08" fill="#fac228"/>
<rect x="376.91" y="69.73" width="7.14" height="7.08" fill="#f9cb35"/>
<rect x="383.55" y="69.73" width="7.14" height="7.08" fill="#f8cf3a"/>
<rect x="390.19" y="69.73" width="7.14" height="7.08" fill="#f9cb35"/>
<rect x="396.82" y="69.73" width="7.14" height="7.08" fill="#fac228"/>
<rect x="403.46" y="69.73" width="7.14" height="7.08" fill="#fcb014"/>
<rect x="410.10" y="69.73" width="7.14" height="7.08" fill="#fb9b06"/>
<rect x="416.73" y="69.73" width="7.14" height="7.08" fill="#f78212"/>
<rect x="423.37" y="69.73" width="7.14" height="7.08" fill="#ed6925"/>
<rect x="430.01" y="69.73" width="7.14" height="7.08" fill="#dd513a"/>
<rect x="436.64" y="69.73" width="7.14" height="7.08" fill="#c73e4c"/>
<rect x="443.28" y="69.73" width="7.14" height="7.08" fill="#b0315b"/>
<rect x="449.92" y="69.73" width="7.14" height="7.08" fill="#972766"/>
<rect x="456.55" y="69.73" width="7.14" height="7.08" fill="#801f6c"/>
<rect x="463.19" y="69.73" width="7.14" height="7.08" fill="#6f196e"/>
<rect x="469.83" y="69.73" width="7.14" height="7.08" fill="#62146e"/>
<rect x="476.46" y="69.73" width="7.14" height="7.08" fill="#59106e"/>
<rect x="483.10" y="69.73" width="7.14" height="7.08" fill="#59106e"/>
<rect x="277.36" y="63.15" width="7.14" height="7.08" fill="#4c0c6b"/>
<rect x="284.00" y="63.15" width="7.14" height="7.08" fill="#4c0c6b"/>
<rect x="290.64" y="63.15" width="7.14" height="7.08" fill="#4f0d6c"/>
<rect x="297.27" y="63.15" width="7.14" height="7.08" fill="#57106e"/>
<rect x="303.91" y="63.15" width="7.14" height="7.08" fill="#64156e"/>
<rect x="310.55" y="63.15" width="7.14" height="7.08" fill="#751b6e"/>
<rect x="317.18" y="63.15" width="7.14" height="7.08" fill="#8a226a"/>
<rect x="323.82" y="63.15" width="7.14" height="7.08" fill="#a02a63"/>
<rect x="330.46" y="63.15" width="7.14" height="7.08" fill="#b93556"/>
<rect x="337.09" y="63.15" width="7.14" height="7.08" fill="#cf4446"/>
<rect x="343.73" y="63.15" width="7.14" height="7.08" fill="#e25734"/>
<rect x="350.37" y="63.15" width="7.14" height="7.08" fill="#ef6c23"/>
<rect x="357.00" y="63.15" width="7.14" height="7.08" fill="#f78212"/>
<rect x="363.64" y="63.15" width="7.14" height="7.08" fill="#fb9606"/>
<rect x="370.28" y="63.15" width="7.14" height="7.08" fill="#fca50a"/>
<rect x="376.91" y="63.15" width="7.14" height="7.08" fill="#fcae12"/>
<rect x="383.55" y="63.15" width="7.14" height="7.08" fill="#fcb216"/>
<rect x="390.19" y="63.15" width="7.14" height="7.08" fill="#fcae12"/>
<rect x="396.82" y="63.15" width="7.14" height="7.08" fill="#fca50a"/>
<rect x="403.46" y="63.15" width="7.14" height="7.08" fill="#fb9606"/>
<rect x="410.10" y="63.15" width="7.14" height="7.08" fill="#f78212"/>
<rect x="416.73" y="63.15" width="7.14" height="7.08" fill="#ef6c23"/>
<rect x="423.37" y="63.15" width="7.14" height="7.08" fill="#e25734"/>
<rect x="430.01" y="63.15" width="7.14" height="7.08" fill="#cf4446"/>
<rect x="436.64" y="63.15" width="7.14" height="7.08" fill="#b93556"/>
<rect x="443.28" y="63.15" width="7.14" height="7.08" fill="#a02a63"/>
<rect x="449.92" y="63.15" width="7.14" height="7.08" fill="#8a226a"/>
<rect x="456.55" y="63.15" width="7.14" height="7.08" fill="#751b6e"/>
<rect x="463.19" y="63.15" width="7.14" height="7.08" fill="#64156e"/>
<rect x="469.83" y="63.15" width="7.14" height="7.08" fill="#57106e"/>
<rect x="476.46" y="63.15" width="7.14" height="7.08" fill="#4f0d6c"/>
<rect x="483.10" y="63.15" width="7.14" height="7.08" fill="#4f0d6c"/>
<rect x="277.36" y="56.57" width="7.14" height="7.08" fill="#400a67"/>
<rect x="284.00" y="56.57" width="7.14" height="7.08" fill="#400a67"/>
<rect x="290.64" y="56.57" width="7.14" height="7.08" fill="#420a68"/>
<rect x="297.27" y="56.57" width="7.14" height="7.08" fill="#4a0c6b"/>
<rect x="303.91" y="56.57" width="7.14" height="7.08" fill="#57106e"/>
<rect x="310.55" y="56.57" width="7.14" height="7.08" fill="#67166e"/>
<rect x="317.18" y="56.57" width="7.14" height="7.08" fill="#7a1d6d"/>
<rect x="323.82" y="56.57" width="7.14" height="7.08" fill="#8f2469"/>
<rect x="330.46" y="56.57" width="7.14" height="7.08" fill="#a62d60"/>
<rect x="337.09" y="56.57" width="7.14" height="7.08" fill="#bd3853"/>
<rect x="343.73" y="56.57" width="7.14" height="7.08" fill="#d24644"/>
<rect x="350.37" y="56.57" width="7.14" height="7.08" fill="#e25734"/>
<rect x="357.00" y="56.57" width="7.14" height="7.08" fill="#ed6925"/>
<rect x="363.64" y="56.57" width="7.14" height="7.08" fill="#f47918"/>
<rect x="370.28" y="56.57" width="7.14" height="7.08" fill="#f8850f"/>
<rect x="376.91" y="56.57" width="7.14" height="7.08" fill="#f98e09"/>
<rect x="383.55" y="56.57" width="7.14" height="7.08" fill="#fa9207"/>
<rect x="390.19" y="56.57" width="7.14" height="7.08" fill="#f98e09"/>
<rect x="396.82" y="56.57" width="7.14" height="7.08" fill="#f8850f"/>
<rect x="403.46" y="56.57" width="7.14" height="7.08" fill="#f47918"/>
<rect x="410.10" y="56.57" width="7.14" height="7.08" fill="#ed6925"/>
<rect x="416.73" y="56.57" width="7.14" height="7.08" fill="#e25734"/>
<rect x="423.37" y="56.57" width="7.14" height="7.08" fill="#d24644"/>
<rect x="430.01" y="56.57" width="7.14" height="7.08" fill="#bd3853"/>
<rect x="436.64" y="56.57" width="7.14" height="7.08" fill="#a62d60"/>
<rect x="443.28" y="56.57" width="7.14" height="7.08" fill="#8f2469"/>
<rect x="449.92" y="56.57" width="7.14" height="7.08" fill="#7a1d6d"/>
<rect x="456.55" y="56.57" width="7.14" height="7.08" fill="#67166e"/>
<rect x="463.19" y="56.57" width="7.14" height="7.08" fill="#57106e"/>
<rect x="469.83" y="56.57" width="7.14" height="7.08" fill="#4a0c6b"/>
<rect x="476.46" y="56.57" width="7.14" height="7.08" fill="#420a68"/>
<rect x="483.10" y="56.57" width="7.14" height="7.08" fill="#420a68"/>
<rect x="277.36" y="49.98" width="7.14" height="7.08" fill="#320a5e"/>
<rect x="284.00" y="49.98" width="7.14" height="7.08" fill="#320a5e"/>
<rect x="290.64" y="49.98" width="7.14" height="7.08" fill="#340a5f"/>
<rect x="297.27" y="49.98" width="7.14" height="7.08" fill="#3d0965"/>
<rect x="303.91" y="49.98" width="7.14" height="7.08" fill="#490b6a"/>
<rect x="310.55" y="49.98" width="7.14" height="7.08" fill="#57106e"/>
<rect x="317.18" y="49.98" width="7.14" height="7.08" fill="#69166e"/>
<rect x="323.82" y="49.98" width="7.14" height="7.08" fill="#7d1e6d"/>
<rect x="330.46" y="49.98" width="7.14" height="7.08" fill="#932667"/>
<rect x="337.09" y="49.98" width="7.14" height="7.08" fill="#a92e5e"/>
<rect x="343.73" y="49.98" width="7.14" height="7.08" fill="#bd3853"/>
<rect x="350.37" y="49.98" width="7.14" height="7.08" fill="#cf4446"/>
<rect x="357.00" y="49.98" width="7.14" height="7.08" fill="#dd513a"/>
<rect x="363.64" y="49.98" width="7.14" height="7.08" fill="#e75e2e"/>
<rect x="370.28" y="49.98" width="7.14" height="7.08" fill="#ed6925"/>
<rect x="376.91" y="49.98" width="7.14" height="7.08" fill="#f06f20"/>
<rect x="383.55" y="49.98" width="7.14" height="7.08" fill="#f1711f"/>
<rect x="390.19" y="49.98" width="7.14" height="7.08" fill="#f06f20"/>
<rect x="396.82" y="49.98" width="7.14" height="7.08" fill="#ed6925"/>
<rect x="403.46" y="49.98" width="7.14" height="7.08" fill="#e75e2e"/>
<rect x="410.10" y="49.98" width="7.14" height="7.08" fill="#dd513a"/>
<rect x="416.73" y="49.98" width="7.14" height="7.08" fill="#cf4446"/>
<rect x="423.37" y="49.98" width="7.14" height="7.08" fill="#bd3853"/>
<rect x="430.01" y="49.98" width="7.14" height="7.08" fill="#a92e5e"/>
<rect x="436.64" y="49.98" width="7.14" height="7.08" fill="#932667"/>
<rect x="443.28" y="49.98" width="7.14" height="7.08" fill="#7d1e6d"/>
<rect x="449.92" y="49.98" width="7.14" height="7.08" fill="#69166e"/>
<rect x="456.55" y="49.98" width="7.14" height="7.08" fill="#57106e"/>
<rect x="463.19" y="49.98" width="7.14" height="7.08" fill="#490b6a"/>
<rect x="469.83" y="49.98" width="7.14" height="7.08" fill="#3d0965"/>
<rect x="476.46" y="49.98" width="7.14" height="7.08" fill="#340a5f"/>
<rect x="483.10" y="49.98" width="7.14" height="7.08" fill="#340a5f"/>
<rect x="277.36" y="43.40" width="7.14" height="7.08" fill="#240c4f"/>
<rect x="284.00" y="43.40" width="7.14" height="7.08" fill="#240c4f"/>
<rect x="290.64" y="43.40" width="7.14" height="7.08" fill="#260c51"/>
<rect x="297.27" y="43.40" width="7.14" height="7.08" fill="#2d0b59"/>
<rect x="303.91" y="43.40" width="7.14" height="7.08" fill="#390963"/>
<rect x="310.55" y="43.40" width="7.14" height="7.08" fill="#470b6a"/>
<rect x="317.18" y="43.40" width="7.14" height="7.08" fill="#59106e"/>
<rect x="323.82" y="43.40" width="7.14" height="7.08" fill="#6a176e"/>
<rect x="330.46" y="43.40" width="7.14" height="7.08" fill="#7f1e6c"/>
<rect x="337.09" y="43.40" width="7.14" height="7.08" fill="#932667"/>
<rect x="343.73" y="43.40" width="7.14" height="7.08" fill="#a62d60"/>
<rect x="350.37" y="43.40" width="7.14" height="7.08" fill="#b93556"/>
<rect x="357.00" y="43.40" width="7.14" height="7.08" fill="#c73e4c"/>
<rect x="363.64" y="43.40" width="7.14" height="7.08" fill="#d34743"/>
<rect x="370.28" y="43.40" width="7.14" height="7.08" fill="#da4e3c"/>
<rect x="376.91" y="43.40" width="7.14" height="7.08" fill="#df5337"/>
<rect x="383.55" y="43.40" width="7.14" height="7.08" fill="#e15635"/>
<rect x="390.19" y="43.40" width="7.14" height="7.08" fill="#df5337"/>
<rect x="396.82" y="43.40" width="7.14" height="7.08" fill="#da4e3c"/>
<rect x="403.46" y="43.40" width="7.14" height="7.08" fill="#d34743"/>
<rect x="410.10" y="43.40" width="7.14" height="7.08" fill="#c73e4c"/>
<rect x="416.73" y="43.40" width="7.14" height="7.08" fill="#b93556"/>
<rect x="423.37" y="43.40" width="7.14" height="7.08" fill="#a62d60"/>
<rect x="430.01" y="43.40" width="7.14" height="7.08" fill="#932667"/>
<rect x="436.64" y="43.40" width="7.14" height="7.08" fill="#7f1e6c"/>
<rect x="443.28" y="43.40" width="7.14" height="7.08" fill="#6a176e"/>
<rect x="449.92" y="43.40" width="7.14" height="7.08" fill="#59106e"/>
<rect x="456.55" y="43.40" width="7.14" height="7.08" fill="#470b6a"/>
<rect x="463.19" y="43.40" width="7.14" height="7.08" fill="#390963"/>
<rect x="469.83" y="43.40" width="7.14" height="7.08" fill="#2d0b59"/>
<rect x="476.46" y="43.40" width="7.14" height="7.08" fill="#260c51"/>
<rect x="483.10" y="43.40" width="7.14" height="7.08" fill="#260c51"/>
<rect x="277.36" y="36.82" width="7.14" height="7.08" fill="#180c3c"/>
<rect x="284.00" y="36.82" width="7.14" height="7.08" fill="#180c3c"/>
<rect x="290.64" y="36.82" width="7.14" height="7.08" fill="#190c3e"/>
<rect x="297.27" y="36.82" width="7.14" height="7.08" fill="#1f0c48"/>
<rect x="303.91" y="36.82" width="7.14" height="7.08" fill="#290b55"/>
<rect x="310.55" y="36.82" width="7.14" height="7.08" fill="#380962"/>
<rect x="317.18" y="36.82" width="7.14" height="7.08" fill="#470b6a"/>
<rect x="323.82" y="36.82" width="7.14" height="7.08" fill="#59106e"/>
<rect x="330.46" y="36.82" width="7.14" height="7.08" fill="#6a176e"/>
<rect x="337.09" y="36.82" width="7.14" height="7.08" fill="#7d1e6d"/>
<rect x="343.73" y="36.82" width="7.14" height="7.08" fill="#8f2469"/>
<rect x="350.37" y="36.82" width="7.14" height="7.08" fill="#a02a63"/>
<rect x="357.00" y="36.82" width="7.14" height="7.08" fill="#b0315b"/>
<rect x="363.64" y="36.82" width="7.14" height="7.08" fill="#bc3754"/>
<rect x="370.28" y="36.82" width="7.14" height="7.08" fill="#c33b4f"/>
<rect x="376.91" y="36.82" width="7.14" height="7.08" fill="#c83f4b"/>
<rect x="383.55" y="36.82" width="7.14" height="7.08" fill="#ca404a"/>
<rect x="390.19" y="36.82" width="7.14" height="7.08" fill="#c83f4b"/>
<rect x="396.82" y="36.82" width="7.14" height="7.08" fill="#c33b4f"/>
<rect x="403.46" y="36.82" width="7.14" height="7.08" fill="#bc3754"/>
<rect x="410.10" y="36.82" width="7.14" height="7.08" fill="#b0315b"/>
<rect x="416.73" y="36.82" width="7.14" height="7.08" fill="#a02a63"/>
<rect x="423.37" y="36.82" width="7.14" height="7.08" fill="#8f2469"/>
<rect x="430.01" y="36.82" width="7.14" height="7.08" fill="#7d1e6d"/>
<rect x="436.64" y="36.82" width="7.14" height="7.08" fill="#6a176e"/>
<rect x="443.28" y="36.82" width="7.14" height="7.08" fill="#59106e"/>
<rect x="449.92" y="36.82" width="7.14" height="7.08" fill="#470b6a"/>
<rect x="456.55" y="36.82" width="7.14" height="7.08" fill="#380962"/>
<rect x="463.19" y="36.82" width="7.14" height="7.08" fill="#290b55"/>
<rect x="469.83" y="36.82" width="7.14" height="7.08" fill="#1f0c48"/>
<rect x="476.46" y="36.82" width="7.14" height="7.08" fill="#190c3e"/>
<rect x="483.10" y="36.82" width="7.14" height="7.08" fill="#190c3e"/>
<rect x="277.36" y="30.23" width="7.14" height="7.08" fill="#0e092b"/>
<rect x="284.00" y="30.23" width="7.14" height="7.08" fill="#0e092b"/>
<rect x="290.64" y="30.23" width="7.14" height="7.08" fill="#10092d"/>
<rect x="297.27" y="30.23" width="7.14" height="7.08" fill="#140b34"/>
<rect x="303.91" y="30.23" width="7.14" height="7.08" fill="#1b0c41"/>
<rect x="310.55" y="30.23" width="7.14" height="7.08" fill="#280b53"/>
<rect x="317.18" y="30.23" width="7.14" height="7.08" fill="#360961"/>
<rect x="323.82" y="30.23" width="7.14" height="7.08" fill="#470b6a"/>
<rect x="330.46" y="30.23" width="7.14" height="7.08" fill="#59106e"/>
<rect x="337.09" y="30.23" width="7.14" height="7.08" fill="#69166e"/>
<rect x="343.73" y="30.23" width="7.14" height="7.08" fill="#7a1d6d"/>
<rect x="350.37" y="30.23" width="7.14" height="7.08" fill="#88226a"/>
<rect x="357.00" y="30.23" width="7.14" height="7.08" fill="#972766"/>
<rect x="363.64" y="30.23" width="7.14" height="7.08" fill="#a22b62"/>
<rect x="370.28" y="30.23" width="7.14" height="7.08" fill="#ab2f5e"/>
<rect x="376.91" y="30.23" width="7.14" height="7.08" fill="#b0315b"/>
<rect x="383.55" y="30.23" width="7.14" height="7.08" fill="#b1325a"/>
<rect x="390.19" y="30.23" width="7.14" height="7.08" fill="#b0315b"/>
<rect x="396.82" y="30.23" width="7.14" height="7.08" fill="#ab2f5e"/>
<rect x="403.46" y="30.23" width="7.14" height="7.08" fill="#a22b62"/>
<rect x="410.10" y="30.23" width="7.14" height="7.08" fill="#972766"/>
<rect x="416.73" y="30.23" width="7.14" height="7.08" fill="#8a226a"/>
<rect x="423.37" y="30.23" width="7.14" height="7.08" fill="#7a1d6d"/>
<rect x="430.01" y="30.23" width="7.14" height="7.08" fill="#69166e"/>
<rect x="436.64" y="30.23" width="7.14" height="7.08" fill="#59106e"/>
<rect x="443.28" y="30.23" width="7.14" height="7.08" fill="#470b6a"/>
<rect x="449.92" y="30.23" width="7.14" height="7.08" fill="#360961"/>
<rect x="456.55" y="30.23" width="7.14" height="7.08" fill="#280b53"/>
<rect x="463.19" y="30.23" width="7.14" height="7.08" fill="#1b0c41"/>
<rect x="469.83" y="30.23" width="7.14" height="7.08" fill="#140b34"/>
<rect x="476.46" y="30.23" width="7.14" height="7.08" fill="#10092d"/>
<rect x="483.10" y="30.23" width="7.14" height="7.08" fill="#10092d"/>
<rect x="277.36" y="23.65" width="7.14" height="7.08" fill="#07051b"/>
<rect x="284.00" y="23.65" width="7.14" height="7.08" fill="#07051b"/>
<rect x="290.64" y="23.65" width="7.14" height="7.08" fill="#08051d"/>
<rect x="297.27" y="23.65" width="7.14" height="7.08" fill="#0b0724"/>
<rect x="303.91" y="23.65" width="7.14" height="7.08" fill="#110a30"/>
<rect x="310.55" y="23.65" width="7.14" height="7.08" fill="#1b0c41"/>
<rect x="317.18" y="23.65" width="7.14" height="7.08" fill="#280b53"/>
<rect x="323.82" y="23.65" width="7.14" height="7.08" fill="#380962"/>
<rect x="330.46" y="23.65" width="7.14" height="7.08" fill="#470b6a"/>
<rect x="337.09" y="23.65" width="7.14" height="7.08" fill="#57106e"/>
<rect x="343.73" y="23.65" width="7.14" height="7.08" fill="#67166e"/>
<rect x="350.37" y="23.65" width="7.14" height="7.08" fill="#751b6e"/>
<rect x="357.00" y="23.65" width="7.14" height="7.08" fill="#801f6c"/>
<rect x="363.64" y="23.65" width="7.14" height="7.08" fill="#8c2369"/>
<rect x="370.28" y="23.65" width="7.14" height="7.08" fill="#932667"/>
<rect x="376.91" y="23.65" width="7.14" height="7.08" fill="#982766"/>
<rect x="383.55" y="23.65" width="7.14" height="7.08" fill="#9a2865"/>
<rect x="390.19" y="23.65" width="7.14" height="7.08" fill="#982766"/>
<rect x="396.82" y="23.65" width="7.14" height="7.08" fill="#932667"/>
<rect x="403.46" y="23.65" width="7.14" height="7.08" fill="#8c2369"/>
<rect x="410.10" y="23.65" width="7.14" height="7.08" fill="#801f6c"/>
<rect x="416.73" y="23.65" width="7.14" height="7.08" fill="#751b6e"/>
<rect x="423.37" y="23.65" width="7.14" height="7.08" fill="#67166e"/>
<rect x="430.01" y="23.65" width="7.14" height="7.08" fill="#57106e"/>
<rect x="436.64" y="23.65" width="7.14" height="7.08" fill="#470b6a"/>
<rect x="443.28" y="23.65" width="7.14" height="7.08" fill="#380962"/>
<rect x="449.92" y="23.65" width="7.14" height="7.08" fill="#280b53"/>
<rect x="456.55" y="23.65" width="7.14" height="7.08" fill="#1b0c41"/>
<rect x="463.19" y="23.65" width="7.14" height="7.08" fill="#110a30"/>
<rect x="469.83" y="23.65" width="7.14" height="7.08" fill="#0b0724"/>
<rect x="476.46" y="23.65" width="7.14" height="7.08" fill="#08051d"/>
<rect x="483.10" y="23.65" width="7.14" height="7.08" fill="#08051d"/>
<rect x="277.36" y="17.07" width="7.14" height="7.08" fill="#030210"/>
<rect x="284.00" y="17.07" width="7.14" height="7.08" fill="#030210"/>
<rect x="290.64" y="17.07" width="7.14" height="7.08" fill="#040312"/>
<rect x="297.27" y="17.07" width="7.14" height="7.08" fill="#060419"/>
<rect x="303.91" y="17.07" width="7.14" height="7.08" fill="#0a0722"/>
<rect x="310.55" y="17.07" width="7.14" height="7.08" fill="#110a30"/>
<rect x="317.18" y="17.07" width="7.14" height="7.08" fill="#1b0c41"/>
<rect x="323.82" y="17.07" width="7.14" height="7.08" fill="#290b55"/>
<rect x="330.46" y="17.07" width="7.14" height="7.08" fill="#390963"/>
<rect x="337.09" y="17.07" width="7.14" height="7.08" fill="#490b6a"/>
<rect x="343.73" y="17.07" width="7.14" height="7.08" fill="#57106e"/>
<rect x="350.37" y="17.07" width="7.14" height="7.08" fill="#64156e"/>
<rect x="357.00" y="17.07" width="7.14" height="7.08" fill="#6f196e"/>
<rect x="363.64" y="17.07" width="7.14" height="7.08" fill="#781c6d"/>
<rect x="370.28" y="17.07" width="7.14" height="7.08" fill="#801f6c"/>
<rect x="376.91" y="17.07" width="7.14" height="7.08" fill="#84206b"/>
<rect x="383.55" y="17.07" width="7.14" height="7.08" fill="#85216b"/>
<rect x="390.19" y="17.07" width="7.14" height="7.08" fill="#84206b"/>
<rect x="396.82" y="17.07" width="7.14" height="7.08" fill="#801f6c"/>
<rect x="403.46" y="17.07" width="7.14" height="7.08" fill="#781c6d"/>
<rect x="410.10" y="17.07" width="7.14" height="7.08" fill="#6f196e"/>
<rect x="416.73" y="17.07" width="7.14" height="7.08" fill="#64156e"/>
<rect x="423.37" y="17.07" width="7.14" height="7.08" fill="#57106e"/>
<rect x="430.01" y="17.07" width="7.14" height="7.08" fill="#490b6a"/>
<rect x="436.64" y="17.07" width="7.14" height="7.08" fill="#390963"/>
<rect x="443.28" y="17.07" width="7.14" height="7.08" fill="#290b55"/>
<rect x="449.92" y="17.07" width="7.14" height="7.08" fill="#1b0c41"/>
<rect x="456.55" y="17.07" width="7.14" height="7.08" fill="#110a30"/>
<rect x="463.19" y="17.07" width="7.14" height="7.08" fill="#0a0722"/>
<rect x="469.83" y="17.07" width="7.14" height="7.08" fill="#060419"/>
<rect x="476.46" y="17.07" width="7.14" height="7.08" fill="#040312"/>
<rect x="483.10" y="17.07" width="7.14" height="7.08" fill="#040312"/>
<rect x="277.36" y="10.48" width="7.14" height="7.08" fill="#010108"/>
<rect x="284.00" y="10.48" width="7.14" height="7.08" fill="#010108"/>
<rect x="290.64" y="10.48" width="7.14" height="7.08" fill="#02010a"/>
<rect x="297.27" y="10.48" width="7.14" height="7.08" fill="#02020e"/>
<rect x="303.91" y="10.48" width="7.14" height="7.08" fill="#060419"/>
<rect x="310.55" y="10.48" width="7.14" height="7.08" fill="#0b0724"/>
<rect x="317.18" y="10.48" width="7.14" height="7.08" fill="#140b34"/>
<rect x="323.82" y="10.48" width="7.14" height="7.08" fill="#1f0c48"/>
<rect x="330.46" y="10.48" width="7.14" height="7.08" fill="#2d0b59"/>
<rect x="337.09" y="10.48" width="7.14" height="7.08" fill="#3d0965"/>
<rect x="343.73" y="10.48" width="7.14" height="7.08" fill="#4a0c6b"/>
<rect x="350.37" y="10.48" width="7.14" height="7.08" fill="#57106e"/>
<rect x="357.00" y="10.48" width="7.14" height="7.08" fill="#62146e"/>
<rect x="363.64" y="10.48" width="7.14" height="7.08" fill="#6a176e"/>
<rect x="370.28" y="10.48" width="7.14" height="7.08" fill="#721a6e"/>
<rect x="376.91" y="10.48" width="7.14" height="7.08" fill="#751b6e"/>
<rect x="383.55" y="10.48" width="7.14" height="7.08" fill="#771c6d"/>
<rect x="390.19" y="10.48" width="7.14" height="7.08" fill="#751b6e"/>
<rect x="396.82" y="10.48" width="7.14" height="7.08" fill="#721a6e"/>
<rect x="403.46" y="10.48" width="7.14" height="7.08" fill="#6a176e"/>
<rect x="410.10" y="10.48" width="7.14" height="7.08" fill="#62146e"/>
<rect x="416.73" y="10.48" width="7.14" height="7.08" fill="#57106e"/>
<rect x="423.37" y="10.48" width="7.14" height="7.08" fill="#4a0c6b"/>
<rect x="430.01" y="10.48" width="7.14" height="7.08" fill="#3d0965"/>
<rect x="436.64" y="10.48" width="7.14" height="7.08" fill="#2d0b59"/>
<rect x="443.28" y="10.48" width="7.14" height="7.08" fill="#1f0c48"/>
<rect x="449.92" y="10.48" width="7.14" height="7.08" fill="#140b34"/>
<rect x="456.55" y="10.48" width="7.14" height="7.08" fill="#0b0724"/>
<rect x="463.19" y="10.48" width="7.14" height="7.08" fill="#060419"/>
<rect x="469.83" y="10.48" width="7.14" height="7.08" fill="#02020e"/>
<rect x="476.46" y="10.48" width="7.14" height="7.08" fill="#02010a"/>
<rect x="483.10" y="10.48" width="7.14" height="7.08" fill="#02010a"/>
<rect x="277.36" y="3.90" width="7.14" height="7.08" fill="#000004"/>
<rect x="284.00" y="3.90" width="7.14" height="7.08" fill="#000004"/>
<rect x="290.64" y="3.90" width="7.14" height="7.08" fill="#010005"/>
<rect x="297.27" y="3.90" width="7.14" height="7.08" fill="#02010a"/>
<rect x="303.91" y="3.90" width="7.14" height="7.08" fill="#040312"/>
<rect x="310.55" y="3.90" width="7.14" height="7.08" fill="#08051d"/>
<rect x="317.18" y="3.90" width="7.14" height="7.08" fill="#10092d"/>
<rect x="323.82" y="3.90" width="7.14" height="7.08" fill="#190c3e"/>
<rect x="330.46" y="3.90" width="7.14" height="7.08" fill="#260c51"/>
<rect x="337.09" y="3.90" width="7.14" height="7.08" fill="#340a5f"/>
<rect x="343.73" y="3.90" width="7.14" height="7.08" fill="#420a68"/>
<rect x="350.37" y="3.90" width="7.14" height="7.08" fill="#4f0d6c"/>
<rect x="357.00" y="3.90" width="7.14" height="7.08" fill="#59106e"/>
<rect x="363.64" y="3.90" width="7.14" height="7.08" fill="#62146e"/>
<rect x="370.28" y="3.90" width="7.14" height="7.08" fill="#69166e"/>
<rect x="376.91" y="3.90" width="7.14" height="7.08" fill="#6c186e"/>
<rect x="383.55" y="3.90" width="7.14" height="7.08" fill="#6d186e"/>
<rect x="390.19" y="3.90" width="7.14" height="7.08" fill="#6c186e"/>
<rect x="396.82" y="3.90" width="7.14" height="7.08" fill="#69166e"/>
<rect x="403.46" y="3.90" width="7.14" height="7.08" fill="#62146e"/>
<rect x="410.10" y="3.90" width="7.14" height="7.08" fill="#59106e"/>
<rect x="416.73" y="3.90" width="7.14" height="7.08" fill="#4f0d6c"/>
<rect x="423.37" y="3.90" width="7.14" height="7.08" fill="#420a68"/>
<rect x="430.01" y="3.90" width="7.14" height="7.08" fill="#340a5f"/>
<rect x="436.64" y="3.90" width="7.14" height="7.08" fill="#260c51"/>
<rect x="443.28" y="3.90" width="7.14" height="7.08" fill="#190c3e"/>
<rect x="449.92" y="3.90" width="7.14" height="7.08" fill="#10092d"/>
<rect x="456.55" y="3.90" width="7.14" height="7.08" fill="#08051d"/>
<rect x="463.19" y="3.90" width="7.14" height="7.08" fill="#040312"/>
<rect x="469.83" y="3.90" width="7.14" height="7.08" fill="#02010a"/>
<rect x="476.46" y="3.90" width="7.14" height="7.08" fill="#010005"/>
<rect x="483.10" y="3.90" width="7.14" height="7.08" fill="#010005"/>
<rect x="277.36" y="-2.68" width="7.14" height="7.08" fill="#000004"/>
<rect x="284.00" y="-2.68" width="7.14" height="7.08" fill="#000004"/>
<rect x="290.64" y="-2.68" width="7.14" height="7.08" fill="#010005"/>
<rect x="297.27" y="-2.68" width="7.14" height="7.08" fill="#02010a"/>
<rect x="303.91" y="-2.68" width="7.14" height="7.08" fill="#040312"/>
<rect x="310.55" y="-2.68" width="7.14" height="7.08" fill="#08051d"/>
<rect x="317.18" y="-2.68" width="7.14" height="7.08" fill="#10092d"/>
<rect x="323.82" y="-2.68" width="7.14" height="7.08" fill="#190c3e"/>
<rect x="330.46" y="-2.68" width="7.14" height="7.08" fill="#260c51"/>
<rect x="337.09" y="-2.68" width="7.14" height="7.08" fill="#340a5f"/>
<rect x="343.73" y="-2.68" width="7.14" height="7.08" fill="#420a68"/>
<rect x="350.37" y="-2.68" width="7.14" height="7.08" fill="#4f0d6c"/>
<rect x="357.00" y="-2.68" width="7.14" height="7.08" fill="#59106e"/>
<rect x="363.64" y="-2.68" width="7.14" height="7.08" fill="#62146e"/>
<rect x="370.28" y="-2.68" width="7.14" height="7.08" fill="#69166e"/>
<rect x="376.91" y="-2.68" width="7.14" height="7.08" fill="#6c186e"/>
<rect x="383.55" y="-2.68" width="7.14" height="7.08" fill="#6d186e"/>
<rect x="390.19" y="-2.68" width="7.14" height="7.08" fill="#6c186e"/>
<rect x="396.82" y="-2.68" width="7.14" height="7.08" fill="#69166e"/>
<rect x="403.46" y="-2.68" width="7.14" height="7.08" fill="#62146e"/>
<rect x="410.10" y="-2.68" width="7.14" height="7.08" fill="#59106e"/>
<rect x="416.73" y="-2.68" width="7.14" height="7.08" fill="#4f0d6c"/>
<rect x="423.37" y="-2.68" width="7.14" height="7.08" fill="#420a68"/>
<rect x="430.01" y="-2.68" width="7.14" height="7.08" fill="#340a5f"/>
<rect x="436.64" y="-2.68" width="7.14" height="7.08" fill="#260c51"/>
<rect x="443.28" y="-2.68" width="7.14" height="7.08" fill="#190c3e"/>
<rect x="449.92" y="-2.68" width="7.14" height="7.08" fill="#10092d"/>
<rect x="456.55" y="-2.68" width="7.14" height="7.08" fill="#08051d"/>
<rect x="463.19" y="-2.68" width="7.14" height="7.08" fill="#040312"/>
<rect x="469.83" y="-2.68" width="7.14" height="7.08" fill="#02010a"/>
<rect x="476.46" y="-2.68" width="7.14" height="7.08" fill="#010005"/>
<rect x="483.10" y="-2.68" width="7.14" height="7.08" fill="#010005"/>
</g>
</g>
<defs><linearGradient id="inf" x1="0" y1="1" x2="0" y2="0">
<stop offset="0.0000" stop-color="#000004"/>
<stop offset="0.0312" stop-color="#040312"/>
<stop offset="0.0625" stop-color="#0b0724"/>
<stop offset="0.0938" stop-color="#150b37"/>
<stop offset="0.1250" stop-color="#210c4a"/>
<stop offset="0.1562" stop-color="#2f0a5b"/>
<stop offset="0.1875" stop-color="#3d0965"/>
<stop offset="0.2188" stop-color="#4a0c6b"/>
<stop offset="0.2500" stop-color="#57106e"/>
<stop offset="0.2812" stop-color="#64156e"/>
<stop offset="0.3125" stop-color="#71196e"/>
<stop offset="0.3438" stop-color="#7d1e6d"/>
<stop offset="0.3750" stop-color="#8a226a"/>
<stop offset="0.4062" stop-color="#972766"/>
<stop offset="0.4375" stop-color="#a32c61"/>
<stop offset="0.4688" stop-color="#b0315b"/>
<stop offset="0.5000" stop-color="#bc3754"/>
<stop offset="0.5312" stop-color="#c73e4c"/>
<stop offset="0.5625" stop-color="#d24644"/>
<stop offset="0.5938" stop-color="#db503b"/>
<stop offset="0.6250" stop-color="#e45a31"/>
<stop offset="0.6562" stop-color="#eb6628"/>
<stop offset="0.6875" stop-color="#f1731d"/>
<stop offset="0.7188" stop-color="#f68013"/>
<stop offset="0.7500" stop-color="#f98e09"/>
<stop offset="0.7812" stop-color="#fb9d07"/>
<stop offset="0.8125" stop-color="#fcac11"/>
<stop offset="0.8438" stop-color="#fbbc21"/>
<stop offset="0.8750" stop-color="#f9cb35"/>
<stop offset="0.9062" stop-color="#f5db4c"/>
<stop offset="0.9375" stop-color="#f2ea69"/>
<stop offset="0.9688" stop-color="#f3f68a"/>
<stop offset="1.0000" stop-color="#fcffa4"/>
</linearGradient></defs>
<rect x="486" y="20.1" width="13.7" height="170.7" fill="url(#inf)" stroke="#555" stroke-width="0.6"/>
<line x1="499.7" y1="186.55" x2="502.2" y2="186.55" stroke="#333" stroke-width="0.8"/>
<text x="519.8" y="193.15" font-size="16.4" text-anchor="end">-3</text>
<line x1="499.7" y1="165.21" x2="502.2" y2="165.21" stroke="#333" stroke-width="0.8"/>
<text x="519.8" y="171.81" font-size="16.4" text-anchor="end">-2</text>
<line x1="499.7" y1="143.87" x2="502.2" y2="143.87" stroke="#333" stroke-width="0.8"/>
<text x="519.8" y="150.47" font-size="16.4" text-anchor="end">-1</text>
<line x1="499.7" y1="122.53" x2="502.2" y2="122.53" stroke="#333" stroke-width="0.8"/>
<text x="519.8" y="129.13" font-size="16.4" text-anchor="end">0</text>
<line x1="499.7" y1="101.19" x2="502.2" y2="101.19" stroke="#333" stroke-width="0.8"/>
<text x="519.8" y="107.79" font-size="16.4" text-anchor="end">1</text>
<line x1="499.7" y1="79.85" x2="502.2" y2="79.85" stroke="#333" stroke-width="0.8"/>
<text x="519.8" y="86.45" font-size="16.4" text-anchor="end">2</text>
<line x1="499.7" y1="58.51" x2="502.2" y2="58.51" stroke="#333" stroke-width="0.8"/>
<text x="519.8" y="65.11" font-size="16.4" text-anchor="end">3</text>
<line x1="499.7" y1="37.17" x2="502.2" y2="37.17" stroke="#333" stroke-width="0.8"/>
<text x="519.8" y="43.77" font-size="16.4" text-anchor="end">4</text>
<text transform="matrix(1 0 0 1.05 0 -0.600)" x="266.8" y="12" font-size="23.5">π</text>
<text transform="matrix(1 0 0 1.05 0 -1.345)" x="290" y="26.9" font-size="22.3" style="fill:#fff">(b)</text>
<text transform="matrix(1 0 0 1.05 0 -1.330)" x="342" y="26.6" font-size="21.9" style="fill:#fff">ω(k<tspan font-size="16" dy="3">x</tspan><tspan dy="-3">,k</tspan><tspan font-size="16" dy="3">y</tspan><tspan dy="-3">)/</tspan><tspan class="it">J</tspan><tspan font-size="16.5" dy="3.2" dx="0.5">1</tspan></text>
<text transform="matrix(1 0 0 1.05 0 -5.085)" x="262.5" y="101.7" font-size="22">k<tspan font-size="16" dy="4.8">y</tspan></text>
<text transform="matrix(1 0 0 1.05 0 -10.060)" x="259.4" y="201.2" font-size="22">-π</text>
<text transform="matrix(1 0 0 1.05 0 -10.860)" x="270.3" y="217.2" font-size="22">-π</text>
<text transform="matrix(1 0 0 1.05 0 -10.960)" x="377.4" y="219.2" font-size="22">k<tspan font-size="16" dy="4.8">x</tspan></text>
<text transform="matrix(1 0 0 1.05 0 -10.895)" x="471.5" y="217.9" font-size="23.5">π</text>
<rect x="27" y="230.5" width="221.7" height="199" fill="none" stroke="#000" stroke-width="1.2"/>
<line x1="27" y1="424.25" x2="29" y2="424.25" stroke="#000" stroke-width="0.8"/>
<text x="24.8" y="430.55" font-size="18" text-anchor="end">0</text>
<line x1="27" y1="388.35" x2="29" y2="388.35" stroke="#000" stroke-width="0.8"/>
<text x="24.8" y="394.65" font-size="18" text-anchor="end">5</text>
<line x1="27" y1="352.45" x2="29" y2="352.45" stroke="#000" stroke-width="0.8"/>
<text x="24.8" y="358.75" font-size="18" text-anchor="end">10</text>
<line x1="27" y1="316.55" x2="29" y2="316.55" stroke="#000" stroke-width="0.8"/>
<text x="24.8" y="322.85" font-size="18" text-anchor="end">15</text>
<line x1="27" y1="280.65" x2="29" y2="280.65" stroke="#000" stroke-width="0.8"/>
<text x="24.8" y="286.95" font-size="18" text-anchor="end">20</text>
<line x1="27" y1="244.75" x2="29" y2="244.75" stroke="#000" stroke-width="0.8"/>
<text x="24.8" y="251.05" font-size="18" text-anchor="end">25</text>
<line x1="33.40" y1="429.5" x2="33.40" y2="427.5" stroke="#000" stroke-width="0.8"/>
<text x="33.40" y="445.6" font-size="18" text-anchor="middle">0</text>
<line x1="76.65" y1="429.5" x2="76.65" y2="427.5" stroke="#000" stroke-width="0.8"/>
<text x="76.65" y="445.6" font-size="18" text-anchor="middle">1</text>
<line x1="119.90" y1="429.5" x2="119.90" y2="427.5" stroke="#000" stroke-width="0.8"/>
<text x="119.90" y="445.6" font-size="18" text-anchor="middle">2</text>
<line x1="163.15" y1="429.5" x2="163.15" y2="427.5" stroke="#000" stroke-width="0.8"/>
<text x="163.15" y="445.6" font-size="18" text-anchor="middle">3</text>
<line x1="206.40" y1="429.5" x2="206.40" y2="427.5" stroke="#000" stroke-width="0.8"/>
<text x="206.40" y="445.6" font-size="18" text-anchor="middle">4</text>
<polyline fill="none" stroke="#2196e8" stroke-width="1.35" stroke-linejoin="round" points="33.40,366.81 36.64,236.85 44.82,352.45 45.51,381.17 48.11,381.17 50.05,415.63 51.56,417.07 241.00,417.07"/>
<polyline fill="none" stroke="#e4704b" stroke-width="1.35" stroke-linejoin="round" points="33.40,424.25 49.40,424.25 51.13,417.07 66.05,417.07 68.00,402.71 171.37,402.71 172.23,409.89 241.00,409.89"/>
<text transform="matrix(1 0 0 1.05 0 -12.715)" x="43.5" y="254.3" font-size="22.5">(c)</text>
<text transform="matrix(1 0 0 1.05 0 -12.815)" x="131.5" y="256.3" font-size="22.5" style="fill:#2196e8">B<tspan font-size="15.5" dy="4.5">0</tspan><tspan dy="-4.5"> (n</tspan><tspan font-size="15.5" dy="4.5">clusters</tspan><tspan dy="-4.5">)</tspan></text>
<text transform="matrix(1 0 0 1.05 0 -14.370)" x="131.5" y="287.4" font-size="22.5" style="fill:#e4704b">B<tspan font-size="15.5" dy="4.5">1</tspan><tspan dy="-4.5"> (n</tspan><tspan font-size="15.5" dy="4.5">loops</tspan><tspan dy="-4.5">)</tspan></text>
<text transform="matrix(1 0 0 1.05 0 -23.245)" x="116" y="464.9" font-size="24.5">ε<tspan font-size="16.5" dy="3.4">ω</tspan><tspan font-size="22.5" dy="-3" dx="0.6">/</tspan><tspan class="it" font-size="21.5">J</tspan><tspan font-size="14.5" dy="4.2">1</tspan></text>
<rect x="283.8" y="230.7" width="234.4" height="198.8" fill="none" stroke="#000" stroke-width="1.2"/>
<line x1="283.8" y1="424.00" x2="285.8" y2="424.00" stroke="#000" stroke-width="0.8"/>
<text x="281" y="430.30" font-size="18" text-anchor="end">1</text>
<line x1="283.8" y1="330.20" x2="285.8" y2="330.20" stroke="#000" stroke-width="0.8"/>
<text x="281" y="336.50" font-size="18" text-anchor="end">2</text>
<line x1="283.8" y1="236.40" x2="285.8" y2="236.40" stroke="#000" stroke-width="0.8"/>
<text x="281" y="242.70" font-size="18" text-anchor="end">3</text>
<line x1="320.50" y1="429.5" x2="320.50" y2="427.5" stroke="#000" stroke-width="0.8"/>
<text x="320.50" y="445.2" font-size="18" text-anchor="middle">1</text>
<line x1="370.50" y1="429.5" x2="370.50" y2="427.5" stroke="#000" stroke-width="0.8"/>
<text x="370.50" y="445.2" font-size="18" text-anchor="middle">2</text>
<line x1="420.50" y1="429.5" x2="420.50" y2="427.5" stroke="#000" stroke-width="0.8"/>
<text x="420.50" y="445.2" font-size="18" text-anchor="middle">3</text>
<line x1="470.50" y1="429.5" x2="470.50" y2="427.5" stroke="#000" stroke-width="0.8"/>
<text x="470.50" y="445.2" font-size="18" text-anchor="middle">4</text>
<text x="284.3" y="446.2" font-size="18" text-anchor="middle">0</text>
<polyline fill="none" stroke="#2196e8" stroke-width="1.35" stroke-linejoin="round" points="300.50,424.00 510.50,424.00"/>
<polyline fill="none" stroke="#e4704b" stroke-width="1.3" stroke-linejoin="round" points="290.50,424.00 300.50,424.00 310.50,236.40 420.50,236.40 430.50,330.20 510.50,330.20"/>
<text transform="matrix(1 0 0 1.05 0 -12.750)" x="286" y="255" font-size="22.5">(d)</text>
<text transform="matrix(1 0 0 1.05 0 -12.850)" x="459.5" y="257" font-size="22" style="fill:#2196e8">B<tspan font-size="15.5" dy="4.5">0</tspan></text>
<text transform="matrix(1 0 0 1.05 0 -14.375)" x="459.5" y="287.5" font-size="22" style="fill:#e4704b">B<tspan font-size="15.5" dy="4.5">1</tspan></text>
<text transform="matrix(1 0 0 1.05 0 -23.245)" x="386.7" y="464.9" font-size="24.5">ε<tspan font-size="16.5" dy="3.4">ω</tspan><tspan font-size="22.5" dy="-3" dx="0.6">/</tspan><tspan class="it" font-size="21.5">J</tspan><tspan font-size="14.5" dy="4.2">1</tspan></text>
<rect x="26.3" y="503.8" width="198.00" height="198.20" fill="#fcffa4"/>
<g fill="#000004" shape-rendering="crispEdges">
<rect x="26.30" y="695.39" width="52.80" height="7.01"/>
<rect x="178.10" y="695.39" width="46.20" height="7.01"/>
<rect x="26.30" y="688.79" width="52.80" height="7.01"/>
<rect x="178.10" y="688.79" width="46.20" height="7.01"/>
<rect x="26.30" y="682.18" width="46.20" height="7.01"/>
<rect x="184.70" y="682.18" width="39.60" height="7.01"/>
<rect x="26.30" y="675.57" width="46.20" height="7.01"/>
<rect x="184.70" y="675.57" width="39.60" height="7.01"/>
<rect x="26.30" y="668.97" width="39.60" height="7.01"/>
<rect x="191.30" y="668.97" width="33.00" height="7.01"/>
<rect x="26.30" y="662.36" width="33.00" height="7.01"/>
<rect x="197.90" y="662.36" width="26.40" height="7.01"/>
<rect x="26.30" y="655.75" width="26.40" height="7.01"/>
<rect x="204.50" y="655.75" width="19.80" height="7.01"/>
<rect x="26.30" y="649.15" width="13.20" height="7.01"/>
<rect x="217.70" y="649.15" width="6.60" height="7.01"/>
<rect x="112.10" y="642.54" width="33.00" height="7.01"/>
<rect x="98.90" y="635.93" width="59.40" height="7.01"/>
<rect x="92.30" y="629.33" width="72.60" height="7.01"/>
<rect x="85.70" y="622.72" width="85.80" height="7.01"/>
<rect x="85.70" y="616.11" width="85.80" height="7.01"/>
<rect x="79.10" y="609.51" width="99.00" height="7.01"/>
<rect x="79.10" y="602.90" width="99.00" height="7.01"/>
<rect x="79.10" y="596.29" width="99.00" height="7.01"/>
<rect x="79.10" y="589.69" width="99.00" height="7.01"/>
<rect x="79.10" y="583.08" width="99.00" height="7.01"/>
<rect x="85.70" y="576.47" width="85.80" height="7.01"/>
<rect x="85.70" y="569.87" width="85.80" height="7.01"/>
<rect x="92.30" y="563.26" width="72.60" height="7.01"/>
<rect x="98.90" y="556.65" width="59.40" height="7.01"/>
<rect x="112.10" y="550.05" width="33.00" height="7.01"/>
<rect x="26.30" y="543.44" width="13.20" height="7.01"/>
<rect x="217.70" y="543.44" width="6.60" height="7.01"/>
<rect x="26.30" y="536.83" width="26.40" height="7.01"/>
<rect x="204.50" y="536.83" width="19.80" height="7.01"/>
<rect x="26.30" y="530.23" width="33.00" height="7.01"/>
<rect x="197.90" y="530.23" width="26.40" height="7.01"/>
<rect x="26.30" y="523.62" width="39.60" height="7.01"/>
<rect x="191.30" y="523.62" width="33.00" height="7.01"/>
<rect x="26.30" y="517.01" width="46.20" height="7.01"/>
<rect x="184.70" y="517.01" width="39.60" height="7.01"/>
<rect x="26.30" y="510.41" width="46.20" height="7.01"/>
<rect x="184.70" y="510.41" width="39.60" height="7.01"/>
<rect x="26.30" y="503.80" width="52.80" height="7.01"/>
<rect x="178.10" y="503.80" width="46.20" height="7.01"/>
</g>
<rect x="302.7" y="501.8" width="199.30" height="198.60" fill="#fcffa4"/>
<g fill="#000004" shape-rendering="crispEdges">
<rect x="389.06" y="614.34" width="33.22" height="7.02"/>
<rect x="382.42" y="607.72" width="46.50" height="7.02"/>
<rect x="382.42" y="601.10" width="46.50" height="7.02"/>
<rect x="382.42" y="594.48" width="46.50" height="7.02"/>
<rect x="382.42" y="587.86" width="46.50" height="7.02"/>
<rect x="382.42" y="581.24" width="46.50" height="7.02"/>
<rect x="389.06" y="574.62" width="33.22" height="7.02"/>
</g>
<path d="M26.3,566.0 C28.1,565.4 33.4,563.9 36.9,562.4 C40.4,560.9 43.3,559.2 47.5,557.0 C51.7,554.8 57.4,551.7 62.3,549.0 C67.2,546.3 72.2,543.5 77.1,541.0 C82.0,538.5 87.3,536.2 91.9,534.0 C96.5,531.8 100.7,529.6 104.6,528.0 C108.5,526.4 111.7,525.2 115.2,524.5 C118.7,523.8 123.2,523.7 125.8,523.6 C128.4,523.5 128.0,523.7 130.6,524.0 C133.2,524.3 138.0,524.9 141.2,525.6 C144.4,526.4 147.2,527.1 150.0,528.5 C152.8,529.9 155.1,532.2 157.7,534.0 C160.3,535.8 162.8,537.7 165.4,539.2 C168.0,540.7 170.5,541.9 173.1,543.2 C175.7,544.5 178.2,545.6 180.8,547.0 C183.4,548.4 185.9,550.1 188.5,551.3 C191.1,552.5 193.6,553.6 196.2,554.4 C198.8,555.2 201.2,555.7 203.8,556.2 C206.4,556.7 208.1,557.0 211.5,557.4 C214.9,557.8 222.2,558.6 224.3,558.8" fill="none" stroke="#dc5a26" stroke-width="2.1"/>
<path d="M27.4,601.1 C29.0,600.5 33.5,599.5 36.9,597.6 C40.2,595.8 44.0,592.8 47.5,590.0 C51.0,587.2 54.6,584.1 58.1,580.6 C61.6,577.1 65.2,572.7 68.7,569.0 C72.2,565.3 75.7,561.5 79.2,558.3 C82.7,555.1 86.3,552.4 89.8,549.9 C93.3,547.4 97.2,545.3 100.4,543.0 C103.6,540.7 106.4,538.6 108.9,536.0 C111.4,533.4 113.5,530.5 115.2,527.2 C117.0,523.9 118.2,519.6 119.4,516.2 C120.6,512.8 121.9,508.7 122.6,506.6 C123.3,504.5 123.5,504.3 123.7,503.8" fill="none" stroke="#dc5a26" stroke-width="2.0" stroke-dasharray="5.6 2 1.8 2"/>
<path d="M224.3,598.2 C223.0,598.6 219.5,599.8 216.6,600.7 C213.7,601.7 210.2,602.7 207.0,603.9 C203.8,605.1 199.8,606.2 197.3,607.7 C194.8,609.2 193.5,611.0 191.8,613.2 C190.1,615.4 188.8,617.9 186.9,620.8 C185.1,623.7 182.9,627.2 180.7,630.4 C178.5,633.6 176.3,637.0 173.8,640.1 C171.3,643.2 168.1,646.2 165.5,649.1 C162.9,652.0 160.8,654.2 158.1,657.4 C155.4,660.5 152.4,664.3 149.6,668.0 C146.8,671.7 144.0,675.9 141.2,679.6 C138.4,683.3 135.5,686.9 132.7,690.2 C129.9,693.6 126.0,697.7 124.2,699.7 C122.4,701.7 122.4,701.6 122.0,702.0" fill="none" stroke="#dc5a26" stroke-width="2.0" stroke-dasharray="5.6 2 1.8 2"/>
<path d="M165.8,503.8 C165.9,505.7 165.6,511.9 166.2,515.4 C166.8,518.9 167.4,522.2 169.2,524.6 C171.0,527.0 174.3,528.2 176.9,530.0 C179.5,531.8 182.3,533.5 184.6,535.4 C186.9,537.3 189.1,539.2 190.8,541.5 C192.5,543.8 193.3,546.5 194.6,549.2 C195.9,551.9 197.1,554.9 198.5,557.7 C199.9,560.5 201.7,563.8 203.1,566.2 C204.5,568.7 205.6,570.0 207.0,572.4 C208.4,574.8 210.4,577.9 211.8,580.7 C213.2,583.5 214.4,586.5 215.2,589.0 C216.0,591.5 216.4,593.1 216.6,595.9 C216.8,598.7 216.5,602.6 216.4,605.6 C216.3,608.6 216.4,611.1 215.9,613.9 C215.4,616.7 214.3,619.7 213.2,622.2 C212.0,624.7 210.7,626.6 209.0,629.1 C207.3,631.6 205.2,634.8 202.8,637.3 C200.4,639.8 197.3,641.8 194.5,644.3 C191.7,646.8 188.5,650.0 186.2,652.5 C183.9,655.0 182.8,656.3 180.7,659.4 C178.6,662.5 176.1,667.1 173.9,671.2 C171.7,675.3 169.1,680.0 167.6,683.9 C166.1,687.8 165.5,691.4 165.1,694.4 C164.7,697.4 165.1,700.7 165.1,702.0" fill="none" stroke="#dc5a26" stroke-width="2.0" stroke-dasharray="5.3 3.4"/>
<path d="M302.7,562.4 C304.8,562.0 311.0,560.7 315.4,559.9 C319.8,559.1 324.6,558.6 329.2,557.4 C333.8,556.2 338.9,554.1 343.1,552.8 C347.3,551.5 350.8,550.5 354.6,549.5 C358.5,548.5 362.4,547.5 366.2,547.0 C370.0,546.5 372.1,546.4 377.7,546.3 C383.3,546.2 390.5,546.3 400.0,546.3 C409.5,546.3 427.7,546.1 434.6,546.1 C441.5,546.1 438.8,545.7 441.5,546.3 C444.2,546.9 447.3,548.6 450.8,549.5 C454.3,550.4 458.9,550.9 462.3,551.8 C465.8,552.6 468.4,553.7 471.5,554.6 C474.6,555.5 475.7,556.9 480.8,557.4 C485.9,557.9 498.5,557.4 502.0,557.4" fill="none" stroke="#dc5a26" stroke-width="2.0"/>
<path d="M439.2,501.8 C439.5,503.7 440.3,508.9 441.1,513.1 C441.9,517.3 442.6,522.3 443.8,526.9 C445.0,531.5 447.0,536.6 448.5,540.8 C450.0,545.0 451.6,548.5 452.6,552.3 C453.6,556.1 454.3,558.8 454.7,563.8 C455.1,568.8 454.8,576.3 454.9,582.3 C454.9,588.3 454.9,592.4 455.0,600.0 C455.1,607.6 455.4,621.2 455.4,627.7 C455.4,634.2 455.5,635.4 454.9,639.2 C454.3,643.1 453.0,646.6 451.9,650.8 C450.8,655.0 449.6,660.4 448.5,664.6 C447.4,668.8 445.8,672.4 445.0,676.2 C444.2,680.1 443.9,683.7 443.8,687.7 C443.7,691.7 444.2,698.3 444.3,700.4" fill="none" stroke="#dc5a26" stroke-width="1.9" stroke-dasharray="4.2 5.1"/>
<text transform="matrix(1 0 0 1.05 0 -24.870)" x="45.3" y="497.4" font-size="22.9">|ω|&lt;2J<tspan font-size="15" dy="4.5">1</tspan><tspan dy="-4.5" dx="1.5"> filtration</tspan></text>
<text transform="matrix(1 0 0 1.05 0 -24.855)" x="323" y="497.1" font-size="22.9">|ω|&lt;4J<tspan font-size="15" dy="4.5" dx="0.6">1</tspan><tspan dy="-4.5" dx="0.8"> filtration</tspan></text>
<text transform="matrix(1 0 0 1.05 0 -26.265)" x="32.3" y="525.3" font-size="22" style="fill:#fff">(e)</text>
<text transform="matrix(1 0 0 1.05 0 -26.215)" x="309.3" y="524.3" font-size="22">(f)</text>
<text transform="matrix(1 0 0 1.05 0 -25.540)" x="8.3" y="510.8" font-size="23">π</text>
<text transform="matrix(1 0 0 1.05 0 -30.050)" x="2" y="601" font-size="22">k<tspan font-size="16" dy="4.8">y</tspan></text>
<text transform="matrix(1 0 0 1.05 0 -35.000)" x="-1" y="700" font-size="22.5">-π</text>
<text transform="matrix(1 0 0 1.05 0 -35.850)" x="11" y="717" font-size="22.5">-π</text>
<text transform="matrix(1 0 0 1.05 0 -35.925)" x="118" y="718.5" font-size="22">k<tspan font-size="16" dy="4.8">x</tspan></text>
<text transform="matrix(1 0 0 1.05 0 -35.900)" x="213" y="718" font-size="22">π</text>
<text transform="matrix(1 0 0 1.05 0 -25.510)" x="284" y="510.2" font-size="23">π</text>
<text transform="matrix(1 0 0 1.05 0 -30.000)" x="280" y="600" font-size="22">k<tspan font-size="16" dy="4.8">y</tspan></text>
<text transform="matrix(1 0 0 1.05 0 -34.950)" x="277" y="699" font-size="22.5">-π</text>
<text transform="matrix(1 0 0 1.05 0 -35.800)" x="288.3" y="716" font-size="22.5">-π</text>
<text transform="matrix(1 0 0 1.05 0 -35.925)" x="397" y="718.5" font-size="22">k<tspan font-size="16" dy="4.8">x</tspan></text>
<text transform="matrix(1 0 0 1.05 0 -35.850)" x="491" y="717" font-size="22">π</text>
</svg></body></html>
